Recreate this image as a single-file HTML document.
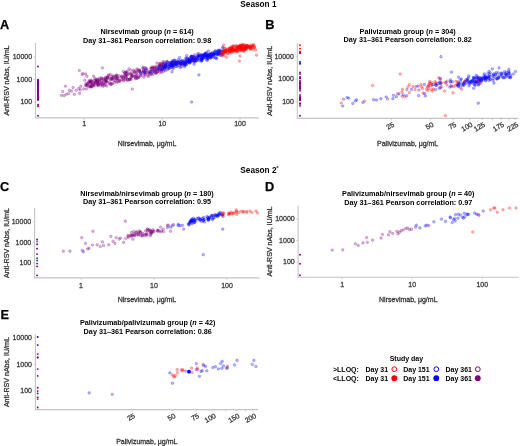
<!DOCTYPE html>
<html><head><meta charset="utf-8"><style>
html,body{margin:0;padding:0;background:#fff;width:520px;height:446px;overflow:hidden}
svg{display:block;font-family:"Liberation Sans",sans-serif;will-change:transform}
.r{fill:#f00;stroke:#f00}.b{fill:#00f;stroke:#00f}.p{fill:#800080;stroke:#800080}
.r,.b,.p{fill-opacity:.3;stroke-opacity:.34;stroke-width:.6}
</style></head><body><svg width="520" height="446" viewBox="0 0 520 446" font-family="Liberation Sans, sans-serif"><circle class="p" cx="61.4" cy="95.3" r="1.35"/><circle class="p" cx="62.7" cy="91.6" r="1.35"/><circle class="p" cx="64.1" cy="95.7" r="1.35"/><circle class="p" cx="65.4" cy="86.2" r="1.35"/><circle class="p" cx="66.3" cy="94.3" r="1.35"/><circle class="p" cx="68.5" cy="93.6" r="1.35"/><circle class="p" cx="69.4" cy="90.3" r="1.35"/><circle class="p" cx="71.5" cy="91.2" r="1.35"/><circle class="p" cx="73.1" cy="87.6" r="1.35"/><circle class="p" cx="74.4" cy="94.3" r="1.35"/><circle class="p" cx="76.2" cy="90.3" r="1.35"/><circle class="p" cx="78.9" cy="88.3" r="1.35"/><circle class="p" cx="79.5" cy="93.4" r="1.35"/><circle class="p" cx="79.3" cy="70.5" r="1.35"/><circle class="p" cx="80.9" cy="86.2" r="1.35"/><circle class="p" cx="80.2" cy="89.9" r="1.35"/><circle class="p" cx="82.2" cy="74.5" r="1.35"/><circle class="p" cx="82.9" cy="73.5" r="1.35"/><circle class="p" cx="83.6" cy="88.9" r="1.35"/><circle class="p" cx="84.9" cy="80.2" r="1.35"/><circle class="p" cx="85.6" cy="73.9" r="1.35"/><circle class="p" cx="86.9" cy="76.4" r="1.35"/><circle class="p" cx="85.6" cy="85.6" r="1.35"/><circle class="p" cx="102.4" cy="67.8" r="1.35"/><circle class="p" cx="93.7" cy="76.2" r="1.35"/><circle class="p" cx="108.5" cy="75.5" r="1.35"/><circle class="p" cx="123.3" cy="71.4" r="1.35"/><circle class="p" cx="132.3" cy="89.0" r="1.35"/><circle class="p" cx="111.6" cy="76.5" r="1.35"/><circle class="p" cx="128.3" cy="74.3" r="1.35"/><circle class="p" cx="90.6" cy="85.6" r="1.35"/><circle class="p" cx="91.5" cy="81.1" r="1.35"/><circle class="p" cx="119.5" cy="81.1" r="1.35"/><circle class="p" cx="135.6" cy="78.4" r="1.35"/><circle class="p" cx="131.6" cy="74.5" r="1.35"/><circle class="p" cx="153.8" cy="67.8" r="1.35"/><circle class="p" cx="97.4" cy="79.0" r="1.35"/><circle class="p" cx="100.3" cy="84.6" r="1.35"/><circle class="p" cx="136.5" cy="72.5" r="1.35"/><circle class="p" cx="90.7" cy="81.9" r="1.35"/><circle class="p" cx="139.8" cy="72.0" r="1.35"/><circle class="p" cx="121.8" cy="76.8" r="1.35"/><circle class="p" cx="148.8" cy="72.8" r="1.35"/><circle class="p" cx="127.5" cy="80.4" r="1.35"/><circle class="p" cx="143.6" cy="71.0" r="1.35"/><circle class="p" cx="119.0" cy="80.0" r="1.35"/><circle class="p" cx="98.0" cy="84.1" r="1.35"/><circle class="p" cx="146.4" cy="72.6" r="1.35"/><circle class="p" cx="155.2" cy="67.1" r="1.35"/><circle class="p" cx="131.8" cy="73.4" r="1.35"/><circle class="p" cx="152.4" cy="72.3" r="1.35"/><circle class="p" cx="90.8" cy="86.3" r="1.35"/><circle class="p" cx="137.1" cy="78.3" r="1.35"/><circle class="p" cx="116.5" cy="79.2" r="1.35"/><circle class="p" cx="87.8" cy="85.5" r="1.35"/><circle class="p" cx="90.7" cy="87.1" r="1.35"/><circle class="p" cx="96.2" cy="79.5" r="1.35"/><circle class="p" cx="92.4" cy="84.9" r="1.35"/><circle class="p" cx="129.4" cy="79.6" r="1.35"/><circle class="p" cx="108.0" cy="77.9" r="1.35"/><circle class="p" cx="114.3" cy="82.8" r="1.35"/><circle class="p" cx="99.9" cy="79.9" r="1.35"/><circle class="p" cx="104.4" cy="80.5" r="1.35"/><circle class="p" cx="86.3" cy="85.1" r="1.35"/><circle class="p" cx="115.2" cy="80.8" r="1.35"/><circle class="p" cx="126.7" cy="76.7" r="1.35"/><circle class="p" cx="139.4" cy="70.9" r="1.35"/><circle class="p" cx="155.1" cy="70.6" r="1.35"/><circle class="p" cx="117.0" cy="78.7" r="1.35"/><circle class="p" cx="90.9" cy="81.6" r="1.35"/><circle class="p" cx="102.5" cy="78.7" r="1.35"/><circle class="p" cx="86.0" cy="83.7" r="1.35"/><circle class="p" cx="94.0" cy="84.5" r="1.35"/><circle class="p" cx="134.5" cy="71.7" r="1.35"/><circle class="p" cx="105.9" cy="79.3" r="1.35"/><circle class="p" cx="153.1" cy="74.3" r="1.35"/><circle class="p" cx="122.8" cy="77.3" r="1.35"/><circle class="p" cx="113.1" cy="77.6" r="1.35"/><circle class="p" cx="151.5" cy="69.9" r="1.35"/><circle class="p" cx="127.7" cy="73.3" r="1.35"/><circle class="p" cx="128.9" cy="68.9" r="1.35"/><circle class="p" cx="154.2" cy="70.6" r="1.35"/><circle class="p" cx="106.6" cy="80.5" r="1.35"/><circle class="p" cx="128.1" cy="79.7" r="1.35"/><circle class="p" cx="112.0" cy="78.3" r="1.35"/><circle class="p" cx="153.4" cy="69.6" r="1.35"/><circle class="p" cx="150.6" cy="72.8" r="1.35"/><circle class="p" cx="114.1" cy="76.3" r="1.35"/><circle class="p" cx="88.2" cy="83.4" r="1.35"/><circle class="p" cx="161.6" cy="68.3" r="1.35"/><circle class="p" cx="160.0" cy="72.6" r="1.35"/><circle class="p" cx="103.4" cy="79.0" r="1.35"/><circle class="p" cx="101.5" cy="77.9" r="1.35"/><circle class="p" cx="152.4" cy="68.4" r="1.35"/><circle class="p" cx="137.6" cy="77.4" r="1.35"/><circle class="p" cx="157.9" cy="71.4" r="1.35"/><circle class="p" cx="145.3" cy="72.5" r="1.35"/><circle class="p" cx="112.3" cy="83.6" r="1.35"/><circle class="p" cx="162.8" cy="64.1" r="1.35"/><circle class="p" cx="143.3" cy="71.0" r="1.35"/><circle class="p" cx="96.0" cy="81.8" r="1.35"/><circle class="p" cx="97.5" cy="84.6" r="1.35"/><circle class="p" cx="163.4" cy="67.4" r="1.35"/><circle class="p" cx="96.3" cy="80.1" r="1.35"/><circle class="p" cx="162.7" cy="65.9" r="1.35"/><circle class="p" cx="120.3" cy="80.4" r="1.35"/><circle class="p" cx="151.3" cy="68.0" r="1.35"/><circle class="p" cx="105.0" cy="82.7" r="1.35"/><circle class="p" cx="106.5" cy="81.6" r="1.35"/><circle class="p" cx="113.9" cy="80.4" r="1.35"/><circle class="p" cx="132.1" cy="76.4" r="1.35"/><circle class="p" cx="125.6" cy="77.7" r="1.35"/><circle class="p" cx="127.4" cy="71.4" r="1.35"/><circle class="p" cx="86.3" cy="89.0" r="1.35"/><circle class="p" cx="99.6" cy="82.0" r="1.35"/><circle class="p" cx="111.8" cy="78.5" r="1.35"/><circle class="p" cx="129.9" cy="78.8" r="1.35"/><circle class="p" cx="105.6" cy="79.9" r="1.35"/><circle class="p" cx="147.0" cy="70.0" r="1.35"/><circle class="p" cx="158.1" cy="67.1" r="1.35"/><circle class="p" cx="134.4" cy="72.9" r="1.35"/><circle class="p" cx="121.7" cy="77.5" r="1.35"/><circle class="p" cx="123.8" cy="79.9" r="1.35"/><circle class="p" cx="160.4" cy="63.5" r="1.35"/><circle class="p" cx="130.2" cy="79.4" r="1.35"/><circle class="p" cx="95.6" cy="82.4" r="1.35"/><circle class="p" cx="91.7" cy="83.4" r="1.35"/><circle class="p" cx="147.9" cy="75.3" r="1.35"/><circle class="p" cx="98.2" cy="84.2" r="1.35"/><circle class="p" cx="155.7" cy="72.4" r="1.35"/><circle class="p" cx="103.3" cy="84.4" r="1.35"/><circle class="p" cx="164.2" cy="70.1" r="1.35"/><circle class="p" cx="98.8" cy="81.1" r="1.35"/><circle class="p" cx="101.5" cy="80.3" r="1.35"/><circle class="p" cx="143.0" cy="67.3" r="1.35"/><circle class="p" cx="87.4" cy="84.0" r="1.35"/><circle class="p" cx="135.3" cy="77.0" r="1.35"/><circle class="p" cx="148.3" cy="76.3" r="1.35"/><circle class="p" cx="94.3" cy="83.3" r="1.35"/><circle class="p" cx="107.4" cy="77.9" r="1.35"/><circle class="p" cx="119.4" cy="81.6" r="1.35"/><circle class="p" cx="97.8" cy="85.6" r="1.35"/><circle class="p" cx="131.1" cy="77.1" r="1.35"/><circle class="p" cx="140.4" cy="72.6" r="1.35"/><circle class="p" cx="91.7" cy="86.7" r="1.35"/><circle class="p" cx="92.6" cy="85.6" r="1.35"/><circle class="p" cx="91.3" cy="86.5" r="1.35"/><circle class="p" cx="129.7" cy="79.3" r="1.35"/><circle class="p" cx="107.2" cy="76.8" r="1.35"/><circle class="p" cx="94.6" cy="80.6" r="1.35"/><circle class="p" cx="90.0" cy="81.8" r="1.35"/><circle class="p" cx="146.0" cy="70.7" r="1.35"/><circle class="p" cx="125.5" cy="73.6" r="1.35"/><circle class="p" cx="105.8" cy="77.1" r="1.35"/><circle class="p" cx="143.9" cy="73.1" r="1.35"/><circle class="p" cx="159.8" cy="65.4" r="1.35"/><circle class="p" cx="150.7" cy="68.1" r="1.35"/><circle class="p" cx="117.1" cy="78.5" r="1.35"/><circle class="p" cx="140.3" cy="76.0" r="1.35"/><circle class="p" cx="141.8" cy="75.4" r="1.35"/><circle class="p" cx="118.0" cy="77.4" r="1.35"/><circle class="p" cx="91.6" cy="86.4" r="1.35"/><circle class="p" cx="106.2" cy="79.7" r="1.35"/><circle class="p" cx="154.8" cy="71.7" r="1.35"/><circle class="p" cx="108.3" cy="77.9" r="1.35"/><circle class="p" cx="98.4" cy="83.3" r="1.35"/><circle class="p" cx="106.8" cy="85.9" r="1.35"/><circle class="p" cx="105.3" cy="84.8" r="1.35"/><circle class="p" cx="110.5" cy="79.7" r="1.35"/><circle class="p" cx="123.5" cy="76.9" r="1.35"/><circle class="p" cx="101.9" cy="82.7" r="1.35"/><circle class="p" cx="93.1" cy="83.1" r="1.35"/><circle class="p" cx="89.3" cy="80.7" r="1.35"/><circle class="p" cx="132.3" cy="75.8" r="1.35"/><circle class="p" cx="145.3" cy="72.8" r="1.35"/><circle class="p" cx="116.8" cy="75.0" r="1.35"/><circle class="p" cx="163.8" cy="63.5" r="1.35"/><circle class="p" cx="89.5" cy="86.2" r="1.35"/><circle class="p" cx="156.5" cy="69.6" r="1.35"/><circle class="p" cx="97.0" cy="81.4" r="1.35"/><circle class="p" cx="125.8" cy="79.8" r="1.35"/><circle class="p" cx="132.1" cy="76.4" r="1.35"/><circle class="p" cx="139.9" cy="74.8" r="1.35"/><circle class="p" cx="96.5" cy="82.2" r="1.35"/><circle class="p" cx="94.3" cy="85.1" r="1.35"/><circle class="p" cx="135.5" cy="75.2" r="1.35"/><circle class="p" cx="124.7" cy="72.9" r="1.35"/><circle class="p" cx="125.7" cy="75.1" r="1.35"/><circle class="p" cx="138.1" cy="69.8" r="1.35"/><circle class="p" cx="91.9" cy="81.4" r="1.35"/><circle class="p" cx="143.6" cy="69.6" r="1.35"/><circle class="p" cx="125.0" cy="72.8" r="1.35"/><circle class="p" cx="123.8" cy="78.5" r="1.35"/><circle class="p" cx="136.8" cy="68.9" r="1.35"/><circle class="p" cx="97.6" cy="80.7" r="1.35"/><circle class="p" cx="130.9" cy="70.3" r="1.35"/><circle class="p" cx="90.8" cy="81.8" r="1.35"/><circle class="p" cx="139.4" cy="70.1" r="1.35"/><circle class="p" cx="126.8" cy="75.3" r="1.35"/><circle class="p" cx="156.6" cy="66.3" r="1.35"/><circle class="p" cx="163.3" cy="71.6" r="1.35"/><circle class="p" cx="150.8" cy="74.6" r="1.35"/><circle class="p" cx="121.5" cy="76.0" r="1.35"/><circle class="p" cx="102.6" cy="84.7" r="1.35"/><circle class="p" cx="97.2" cy="83.7" r="1.35"/><circle class="p" cx="150.8" cy="70.5" r="1.35"/><circle class="p" cx="156.1" cy="70.8" r="1.35"/><circle class="p" cx="124.4" cy="74.8" r="1.35"/><circle class="p" cx="86.3" cy="85.4" r="1.35"/><circle class="p" cx="97.1" cy="81.9" r="1.35"/><circle class="p" cx="111.0" cy="84.3" r="1.35"/><circle class="p" cx="152.3" cy="66.9" r="1.35"/><circle class="p" cx="159.2" cy="70.3" r="1.35"/><circle class="p" cx="115.4" cy="77.4" r="1.35"/><circle class="p" cx="164.9" cy="66.5" r="1.35"/><circle class="p" cx="107.7" cy="77.5" r="1.35"/><circle class="p" cx="94.0" cy="86.0" r="1.35"/><circle class="p" cx="105.7" cy="81.3" r="1.35"/><circle class="p" cx="126.4" cy="71.9" r="1.35"/><circle class="p" cx="155.9" cy="73.3" r="1.35"/><circle class="p" cx="135.8" cy="78.7" r="1.35"/><circle class="p" cx="142.8" cy="68.2" r="1.35"/><circle class="p" cx="143.9" cy="71.8" r="1.35"/><circle class="p" cx="108.6" cy="75.1" r="1.35"/><circle class="p" cx="159.2" cy="63.8" r="1.35"/><circle class="p" cx="109.5" cy="82.3" r="1.35"/><circle class="p" cx="163.1" cy="64.4" r="1.35"/><circle class="p" cx="130.0" cy="73.8" r="1.35"/><circle class="p" cx="99.2" cy="80.2" r="1.35"/><circle class="p" cx="125.3" cy="76.2" r="1.35"/><circle class="p" cx="157.6" cy="72.0" r="1.35"/><circle class="p" cx="101.2" cy="78.8" r="1.35"/><circle class="p" cx="113.0" cy="75.9" r="1.35"/><circle class="p" cx="131.0" cy="79.2" r="1.35"/><circle class="p" cx="145.2" cy="70.1" r="1.35"/><circle class="p" cx="115.8" cy="77.9" r="1.35"/><circle class="p" cx="90.9" cy="83.0" r="1.35"/><circle class="p" cx="125.8" cy="77.4" r="1.35"/><circle class="p" cx="154.2" cy="67.0" r="1.35"/><circle class="p" cx="117.6" cy="78.6" r="1.35"/><circle class="p" cx="161.4" cy="70.3" r="1.35"/><circle class="p" cx="88.5" cy="86.8" r="1.35"/><circle class="p" cx="156.8" cy="68.4" r="1.35"/><circle class="p" cx="116.9" cy="82.0" r="1.35"/><circle class="p" cx="151.2" cy="74.1" r="1.35"/><circle class="p" cx="94.6" cy="80.5" r="1.35"/><circle class="p" cx="127.3" cy="79.1" r="1.35"/><circle class="p" cx="137.1" cy="75.4" r="1.35"/><circle class="p" cx="122.1" cy="79.3" r="1.35"/><circle class="p" cx="104.4" cy="85.3" r="1.35"/><circle class="p" cx="137.0" cy="72.7" r="1.35"/><circle class="p" cx="136.3" cy="76.2" r="1.35"/><circle class="p" cx="94.9" cy="78.6" r="1.35"/><circle class="p" cx="116.7" cy="75.9" r="1.35"/><circle class="p" cx="133.5" cy="70.1" r="1.35"/><circle class="p" cx="161.8" cy="69.4" r="1.35"/><circle class="p" cx="155.8" cy="68.8" r="1.35"/><circle class="p" cx="161.9" cy="69.6" r="1.35"/><circle class="p" cx="110.3" cy="74.4" r="1.35"/><circle class="p" cx="119.2" cy="75.9" r="1.35"/><circle class="p" cx="138.7" cy="77.0" r="1.35"/><circle class="p" cx="112.7" cy="79.0" r="1.35"/><circle class="p" cx="139.9" cy="71.1" r="1.35"/><circle class="p" cx="125.9" cy="72.3" r="1.35"/><circle class="p" cx="162.6" cy="65.7" r="1.35"/><circle class="p" cx="103.5" cy="83.0" r="1.35"/><circle class="p" cx="109.3" cy="83.3" r="1.35"/><circle class="p" cx="103.6" cy="80.8" r="1.35"/><circle class="p" cx="138.6" cy="77.8" r="1.35"/><circle class="p" cx="102.8" cy="86.4" r="1.35"/><circle class="p" cx="97.2" cy="80.1" r="1.35"/><circle class="p" cx="157.0" cy="72.2" r="1.35"/><circle class="p" cx="143.9" cy="77.2" r="1.35"/><circle class="p" cx="100.7" cy="85.4" r="1.35"/><circle class="p" cx="145.0" cy="67.5" r="1.35"/><circle class="p" cx="115.5" cy="76.5" r="1.35"/><circle class="p" cx="99.4" cy="78.1" r="1.35"/><circle class="p" cx="161.5" cy="65.0" r="1.35"/><circle class="p" cx="162.2" cy="63.5" r="1.35"/><circle class="p" cx="150.9" cy="71.4" r="1.35"/><circle class="p" cx="89.9" cy="82.9" r="1.35"/><circle class="p" cx="101.2" cy="82.5" r="1.35"/><circle class="p" cx="156.9" cy="63.1" r="1.35"/><circle class="p" cx="146.6" cy="68.7" r="1.35"/><circle class="p" cx="88.8" cy="82.1" r="1.35"/><circle class="p" cx="145.0" cy="74.9" r="1.35"/><circle class="p" cx="112.8" cy="78.8" r="1.35"/><circle class="p" cx="106.7" cy="82.2" r="1.35"/><circle class="p" cx="111.0" cy="79.6" r="1.35"/><circle class="p" cx="158.4" cy="69.3" r="1.35"/><circle class="p" cx="160.5" cy="63.6" r="1.35"/><circle class="p" cx="161.6" cy="72.2" r="1.35"/><circle class="p" cx="116.5" cy="75.4" r="1.35"/><circle class="p" cx="159.3" cy="65.7" r="1.35"/><circle class="p" cx="149.4" cy="73.7" r="1.35"/><circle class="p" cx="134.0" cy="71.5" r="1.35"/><circle class="p" cx="111.2" cy="78.6" r="1.35"/><circle class="p" cx="101.6" cy="83.7" r="1.35"/><circle class="p" cx="105.5" cy="78.6" r="1.35"/><circle class="p" cx="111.7" cy="83.9" r="1.35"/><circle class="p" cx="155.8" cy="73.0" r="1.35"/><circle class="p" cx="93.6" cy="84.2" r="1.35"/><circle class="p" cx="142.1" cy="72.3" r="1.35"/><circle class="p" cx="135.0" cy="76.7" r="1.35"/><circle class="p" cx="145.1" cy="74.6" r="1.35"/><circle class="p" cx="152.4" cy="67.9" r="1.35"/><circle class="p" cx="130.8" cy="74.1" r="1.35"/><circle class="p" cx="105.5" cy="78.2" r="1.35"/><circle class="p" cx="98.1" cy="85.2" r="1.35"/><circle class="p" cx="117.3" cy="82.0" r="1.35"/><circle class="p" cx="126.1" cy="74.6" r="1.35"/><circle class="p" cx="164.3" cy="61.9" r="1.35"/><circle class="p" cx="123.5" cy="80.8" r="1.35"/><circle class="p" cx="89.2" cy="81.4" r="1.35"/><circle class="p" cx="95.4" cy="82.1" r="1.35"/><circle class="p" cx="159.5" cy="66.5" r="1.35"/><circle class="p" cx="154.4" cy="68.8" r="1.35"/><circle class="p" cx="160.7" cy="65.8" r="1.35"/><circle class="p" cx="133.1" cy="75.9" r="1.35"/><circle class="p" cx="97.2" cy="81.4" r="1.35"/><circle class="p" cx="106.1" cy="81.3" r="1.35"/><circle class="p" cx="86.9" cy="84.0" r="1.35"/><circle class="p" cx="139.6" cy="70.3" r="1.35"/><circle class="p" cx="148.8" cy="72.1" r="1.35"/><circle class="p" cx="91.0" cy="80.0" r="1.35"/><circle class="p" cx="136.5" cy="71.2" r="1.35"/><circle class="p" cx="98.9" cy="83.5" r="1.35"/><circle class="p" cx="110.3" cy="84.2" r="1.35"/><circle class="p" cx="164.7" cy="66.3" r="1.35"/><circle class="p" cx="173.0" cy="68.8" r="1.35"/><circle class="p" cx="165.5" cy="64.1" r="1.35"/><circle class="p" cx="160.1" cy="69.7" r="1.35"/><circle class="p" cx="166.4" cy="66.6" r="1.35"/><circle class="p" cx="166.9" cy="64.7" r="1.35"/><circle class="p" cx="160.2" cy="66.5" r="1.35"/><circle class="p" cx="161.3" cy="66.4" r="1.35"/><circle class="p" cx="165.6" cy="66.8" r="1.35"/><circle class="p" cx="167.8" cy="69.4" r="1.35"/><circle class="p" cx="161.6" cy="68.0" r="1.35"/><circle class="p" cx="163.0" cy="61.8" r="1.35"/><circle class="p" cx="174.1" cy="67.2" r="1.35"/><circle class="p" cx="173.9" cy="63.5" r="1.35"/><circle class="p" cx="173.6" cy="65.5" r="1.35"/><circle class="b" cx="159.6" cy="66.7" r="1.35"/><circle class="b" cx="145.6" cy="68.8" r="1.35"/><circle class="b" cx="160.7" cy="69.5" r="1.35"/><circle class="b" cx="144.6" cy="72.4" r="1.35"/><circle class="b" cx="152.9" cy="71.7" r="1.35"/><circle class="b" cx="149.6" cy="71.9" r="1.35"/><circle class="b" cx="158.1" cy="69.2" r="1.35"/><circle class="b" cx="162.4" cy="69.4" r="1.35"/><circle class="b" cx="158.9" cy="68.6" r="1.35"/><circle class="b" cx="141.0" cy="73.4" r="1.35"/><circle class="b" cx="199.6" cy="57.1" r="1.35"/><circle class="b" cx="196.6" cy="57.4" r="1.35"/><circle class="b" cx="188.6" cy="59.3" r="1.35"/><circle class="b" cx="198.5" cy="55.5" r="1.35"/><circle class="b" cx="190.3" cy="61.5" r="1.35"/><circle class="b" cx="189.7" cy="63.0" r="1.35"/><circle class="b" cx="192.9" cy="59.9" r="1.35"/><circle class="b" cx="177.4" cy="63.7" r="1.35"/><circle class="b" cx="191.0" cy="56.5" r="1.35"/><circle class="b" cx="174.0" cy="63.3" r="1.35"/><circle class="b" cx="170.8" cy="65.2" r="1.35"/><circle class="b" cx="189.3" cy="62.2" r="1.35"/><circle class="b" cx="194.1" cy="60.4" r="1.35"/><circle class="b" cx="165.5" cy="65.7" r="1.35"/><circle class="b" cx="207.7" cy="55.4" r="1.35"/><circle class="b" cx="210.4" cy="54.7" r="1.35"/><circle class="b" cx="193.7" cy="59.3" r="1.35"/><circle class="b" cx="186.0" cy="62.3" r="1.35"/><circle class="b" cx="215.3" cy="53.7" r="1.35"/><circle class="b" cx="223.8" cy="51.4" r="1.35"/><circle class="b" cx="174.8" cy="60.4" r="1.35"/><circle class="b" cx="222.9" cy="47.0" r="1.35"/><circle class="b" cx="218.9" cy="53.4" r="1.35"/><circle class="b" cx="173.1" cy="65.6" r="1.35"/><circle class="b" cx="167.0" cy="61.4" r="1.35"/><circle class="b" cx="184.4" cy="61.7" r="1.35"/><circle class="b" cx="217.7" cy="52.2" r="1.35"/><circle class="b" cx="179.8" cy="63.3" r="1.35"/><circle class="b" cx="193.6" cy="58.3" r="1.35"/><circle class="b" cx="219.1" cy="53.4" r="1.35"/><circle class="b" cx="193.9" cy="60.8" r="1.35"/><circle class="b" cx="182.5" cy="63.4" r="1.35"/><circle class="b" cx="172.8" cy="64.8" r="1.35"/><circle class="b" cx="220.1" cy="51.0" r="1.35"/><circle class="b" cx="173.3" cy="60.6" r="1.35"/><circle class="b" cx="210.9" cy="57.1" r="1.35"/><circle class="b" cx="201.8" cy="59.0" r="1.35"/><circle class="b" cx="184.9" cy="63.3" r="1.35"/><circle class="b" cx="198.4" cy="56.4" r="1.35"/><circle class="b" cx="216.8" cy="58.6" r="1.35"/><circle class="b" cx="201.4" cy="61.3" r="1.35"/><circle class="b" cx="187.0" cy="61.4" r="1.35"/><circle class="b" cx="223.4" cy="50.4" r="1.35"/><circle class="b" cx="198.2" cy="56.1" r="1.35"/><circle class="b" cx="190.0" cy="62.8" r="1.35"/><circle class="b" cx="173.8" cy="64.3" r="1.35"/><circle class="b" cx="213.0" cy="54.1" r="1.35"/><circle class="b" cx="178.5" cy="59.5" r="1.35"/><circle class="b" cx="198.7" cy="53.7" r="1.35"/><circle class="b" cx="203.5" cy="57.0" r="1.35"/><circle class="b" cx="165.1" cy="66.5" r="1.35"/><circle class="b" cx="172.1" cy="63.1" r="1.35"/><circle class="b" cx="194.3" cy="57.8" r="1.35"/><circle class="b" cx="217.6" cy="54.4" r="1.35"/><circle class="b" cx="202.8" cy="58.2" r="1.35"/><circle class="b" cx="164.4" cy="68.4" r="1.35"/><circle class="b" cx="169.5" cy="65.4" r="1.35"/><circle class="b" cx="184.8" cy="62.0" r="1.35"/><circle class="b" cx="198.9" cy="60.7" r="1.35"/><circle class="b" cx="175.5" cy="62.3" r="1.35"/><circle class="b" cx="171.2" cy="63.3" r="1.35"/><circle class="b" cx="220.1" cy="52.8" r="1.35"/><circle class="b" cx="168.8" cy="66.6" r="1.35"/><circle class="b" cx="201.9" cy="59.8" r="1.35"/><circle class="b" cx="187.5" cy="58.3" r="1.35"/><circle class="b" cx="179.1" cy="65.9" r="1.35"/><circle class="b" cx="197.3" cy="58.7" r="1.35"/><circle class="b" cx="184.4" cy="60.3" r="1.35"/><circle class="b" cx="220.2" cy="51.0" r="1.35"/><circle class="b" cx="207.7" cy="56.1" r="1.35"/><circle class="b" cx="165.7" cy="70.6" r="1.35"/><circle class="b" cx="195.4" cy="57.7" r="1.35"/><circle class="b" cx="166.6" cy="66.8" r="1.35"/><circle class="b" cx="210.5" cy="57.9" r="1.35"/><circle class="b" cx="220.4" cy="52.9" r="1.35"/><circle class="b" cx="171.7" cy="65.7" r="1.35"/><circle class="b" cx="193.9" cy="61.9" r="1.35"/><circle class="b" cx="202.1" cy="57.8" r="1.35"/><circle class="b" cx="181.9" cy="61.2" r="1.35"/><circle class="b" cx="181.3" cy="66.5" r="1.35"/><circle class="b" cx="210.8" cy="56.6" r="1.35"/><circle class="b" cx="206.6" cy="60.1" r="1.35"/><circle class="b" cx="208.5" cy="56.0" r="1.35"/><circle class="b" cx="191.4" cy="59.8" r="1.35"/><circle class="b" cx="176.8" cy="61.4" r="1.35"/><circle class="b" cx="169.4" cy="65.4" r="1.35"/><circle class="b" cx="183.5" cy="62.5" r="1.35"/><circle class="b" cx="208.7" cy="54.5" r="1.35"/><circle class="b" cx="206.4" cy="52.7" r="1.35"/><circle class="b" cx="179.2" cy="61.0" r="1.35"/><circle class="b" cx="211.1" cy="54.5" r="1.35"/><circle class="b" cx="194.9" cy="58.7" r="1.35"/><circle class="b" cx="221.9" cy="55.2" r="1.35"/><circle class="b" cx="176.2" cy="64.0" r="1.35"/><circle class="b" cx="178.9" cy="62.8" r="1.35"/><circle class="b" cx="177.4" cy="63.2" r="1.35"/><circle class="b" cx="208.5" cy="51.0" r="1.35"/><circle class="b" cx="182.9" cy="63.3" r="1.35"/><circle class="b" cx="177.6" cy="62.2" r="1.35"/><circle class="b" cx="218.4" cy="51.1" r="1.35"/><circle class="b" cx="203.6" cy="54.7" r="1.35"/><circle class="b" cx="222.7" cy="48.3" r="1.35"/><circle class="b" cx="205.6" cy="57.3" r="1.35"/><circle class="b" cx="215.3" cy="51.1" r="1.35"/><circle class="b" cx="197.8" cy="59.6" r="1.35"/><circle class="b" cx="181.8" cy="63.0" r="1.35"/><circle class="b" cx="167.7" cy="68.5" r="1.35"/><circle class="b" cx="218.6" cy="53.5" r="1.35"/><circle class="b" cx="169.5" cy="65.7" r="1.35"/><circle class="b" cx="219.7" cy="52.3" r="1.35"/><circle class="b" cx="164.8" cy="67.4" r="1.35"/><circle class="b" cx="165.5" cy="65.3" r="1.35"/><circle class="b" cx="205.5" cy="53.9" r="1.35"/><circle class="b" cx="207.9" cy="58.4" r="1.35"/><circle class="b" cx="185.2" cy="62.5" r="1.35"/><circle class="b" cx="212.9" cy="56.5" r="1.35"/><circle class="b" cx="167.0" cy="62.1" r="1.35"/><circle class="b" cx="215.9" cy="58.0" r="1.35"/><circle class="b" cx="169.5" cy="62.8" r="1.35"/><circle class="b" cx="175.5" cy="64.3" r="1.35"/><circle class="b" cx="214.7" cy="54.6" r="1.35"/><circle class="b" cx="212.5" cy="52.3" r="1.35"/><circle class="b" cx="201.5" cy="54.7" r="1.35"/><circle class="b" cx="180.5" cy="63.4" r="1.35"/><circle class="b" cx="209.2" cy="56.2" r="1.35"/><circle class="b" cx="175.5" cy="63.0" r="1.35"/><circle class="b" cx="164.3" cy="68.5" r="1.35"/><circle class="b" cx="178.7" cy="62.5" r="1.35"/><circle class="b" cx="185.4" cy="64.5" r="1.35"/><circle class="b" cx="182.6" cy="64.4" r="1.35"/><circle class="b" cx="214.9" cy="53.6" r="1.35"/><circle class="b" cx="200.7" cy="59.7" r="1.35"/><circle class="b" cx="189.6" cy="60.7" r="1.35"/><circle class="b" cx="210.2" cy="53.7" r="1.35"/><circle class="b" cx="195.8" cy="61.4" r="1.35"/><circle class="b" cx="176.2" cy="64.3" r="1.35"/><circle class="b" cx="213.0" cy="54.0" r="1.35"/><circle class="b" cx="173.4" cy="65.7" r="1.35"/><circle class="b" cx="209.5" cy="55.6" r="1.35"/><circle class="b" cx="222.6" cy="54.4" r="1.35"/><circle class="b" cx="193.0" cy="59.5" r="1.35"/><circle class="b" cx="211.6" cy="56.0" r="1.35"/><circle class="b" cx="184.2" cy="63.9" r="1.35"/><circle class="b" cx="213.7" cy="54.2" r="1.35"/><circle class="b" cx="180.3" cy="67.5" r="1.35"/><circle class="b" cx="176.1" cy="63.0" r="1.35"/><circle class="b" cx="169.7" cy="63.0" r="1.35"/><circle class="b" cx="201.8" cy="60.5" r="1.35"/><circle class="b" cx="205.5" cy="58.2" r="1.35"/><circle class="b" cx="211.0" cy="53.9" r="1.35"/><circle class="b" cx="187.5" cy="59.5" r="1.35"/><circle class="b" cx="187.1" cy="61.6" r="1.35"/><circle class="b" cx="217.2" cy="53.0" r="1.35"/><circle class="b" cx="164.5" cy="66.9" r="1.35"/><circle class="b" cx="218.0" cy="54.9" r="1.35"/><circle class="b" cx="193.6" cy="56.3" r="1.35"/><circle class="b" cx="177.2" cy="66.3" r="1.35"/><circle class="b" cx="191.1" cy="56.6" r="1.35"/><circle class="b" cx="208.9" cy="55.1" r="1.35"/><circle class="b" cx="202.4" cy="56.2" r="1.35"/><circle class="b" cx="172.5" cy="66.1" r="1.35"/><circle class="b" cx="214.4" cy="52.6" r="1.35"/><circle class="b" cx="173.3" cy="61.6" r="1.35"/><circle class="b" cx="189.8" cy="60.6" r="1.35"/><circle class="b" cx="170.7" cy="62.4" r="1.35"/><circle class="b" cx="191.2" cy="61.0" r="1.35"/><circle class="b" cx="174.7" cy="63.1" r="1.35"/><circle class="b" cx="181.4" cy="61.3" r="1.35"/><circle class="b" cx="172.4" cy="60.9" r="1.35"/><circle class="b" cx="172.5" cy="64.6" r="1.35"/><circle class="b" cx="194.9" cy="60.8" r="1.35"/><circle class="b" cx="172.8" cy="63.9" r="1.35"/><circle class="b" cx="222.5" cy="53.3" r="1.35"/><circle class="b" cx="207.5" cy="60.2" r="1.35"/><circle class="b" cx="169.2" cy="68.4" r="1.35"/><circle class="b" cx="186.4" cy="64.7" r="1.35"/><circle class="b" cx="207.7" cy="55.7" r="1.35"/><circle class="b" cx="189.5" cy="61.3" r="1.35"/><circle class="b" cx="169.5" cy="68.0" r="1.35"/><circle class="b" cx="175.6" cy="63.5" r="1.35"/><circle class="b" cx="187.3" cy="61.2" r="1.35"/><circle class="b" cx="211.3" cy="54.3" r="1.35"/><circle class="b" cx="201.6" cy="55.2" r="1.35"/><circle class="b" cx="191.3" cy="61.6" r="1.35"/><circle class="b" cx="187.7" cy="62.9" r="1.35"/><circle class="b" cx="208.2" cy="57.7" r="1.35"/><circle class="b" cx="198.0" cy="57.1" r="1.35"/><circle class="b" cx="208.7" cy="54.5" r="1.35"/><circle class="b" cx="207.1" cy="56.9" r="1.35"/><circle class="b" cx="216.7" cy="54.2" r="1.35"/><circle class="b" cx="215.0" cy="51.1" r="1.35"/><circle class="b" cx="204.5" cy="55.4" r="1.35"/><circle class="b" cx="182.1" cy="60.5" r="1.35"/><circle class="b" cx="201.3" cy="59.2" r="1.35"/><circle class="b" cx="210.7" cy="56.5" r="1.35"/><circle class="b" cx="206.5" cy="55.3" r="1.35"/><circle class="b" cx="188.8" cy="59.4" r="1.35"/><circle class="b" cx="190.8" cy="58.5" r="1.35"/><circle class="b" cx="204.2" cy="55.4" r="1.35"/><circle class="b" cx="219.7" cy="54.1" r="1.35"/><circle class="b" cx="210.5" cy="58.0" r="1.35"/><circle class="b" cx="186.7" cy="55.6" r="1.35"/><circle class="b" cx="165.3" cy="66.7" r="1.35"/><circle class="b" cx="196.1" cy="60.6" r="1.35"/><circle class="b" cx="220.4" cy="55.7" r="1.35"/><circle class="b" cx="194.7" cy="61.2" r="1.35"/><circle class="b" cx="196.0" cy="60.3" r="1.35"/><circle class="b" cx="206.8" cy="53.4" r="1.35"/><circle class="b" cx="213.6" cy="54.3" r="1.35"/><circle class="b" cx="194.8" cy="54.9" r="1.35"/><circle class="b" cx="175.8" cy="66.4" r="1.35"/><circle class="b" cx="204.7" cy="54.1" r="1.35"/><circle class="b" cx="170.5" cy="67.2" r="1.35"/><circle class="b" cx="223.1" cy="51.6" r="1.35"/><circle class="b" cx="179.7" cy="63.4" r="1.35"/><circle class="b" cx="187.4" cy="63.0" r="1.35"/><circle class="b" cx="188.7" cy="60.7" r="1.35"/><circle class="b" cx="205.6" cy="55.6" r="1.35"/><circle class="b" cx="176.7" cy="64.9" r="1.35"/><circle class="b" cx="208.2" cy="58.2" r="1.35"/><circle class="b" cx="176.4" cy="62.8" r="1.35"/><circle class="b" cx="211.9" cy="53.9" r="1.35"/><circle class="b" cx="170.9" cy="65.9" r="1.35"/><circle class="b" cx="210.4" cy="56.4" r="1.35"/><circle class="b" cx="191.6" cy="57.2" r="1.35"/><circle class="b" cx="197.3" cy="59.2" r="1.35"/><circle class="b" cx="184.5" cy="66.7" r="1.35"/><circle class="b" cx="202.0" cy="58.9" r="1.35"/><circle class="b" cx="191.6" cy="56.5" r="1.35"/><circle class="b" cx="181.0" cy="61.6" r="1.35"/><circle class="b" cx="213.9" cy="54.1" r="1.35"/><circle class="b" cx="184.6" cy="62.5" r="1.35"/><circle class="b" cx="185.9" cy="60.0" r="1.35"/><circle class="b" cx="178.5" cy="62.0" r="1.35"/><circle class="b" cx="163.2" cy="67.4" r="1.35"/><circle class="b" cx="207.0" cy="55.9" r="1.35"/><circle class="b" cx="181.4" cy="63.9" r="1.35"/><circle class="b" cx="192.3" cy="57.1" r="1.35"/><circle class="b" cx="203.2" cy="58.3" r="1.35"/><circle class="b" cx="185.1" cy="65.0" r="1.35"/><circle class="b" cx="166.5" cy="64.3" r="1.35"/><circle class="b" cx="213.5" cy="57.5" r="1.35"/><circle class="b" cx="171.6" cy="62.9" r="1.35"/><circle class="b" cx="213.7" cy="54.3" r="1.35"/><circle class="b" cx="163.7" cy="66.5" r="1.35"/><circle class="b" cx="221.1" cy="51.7" r="1.35"/><circle class="b" cx="169.2" cy="64.1" r="1.35"/><circle class="b" cx="171.7" cy="65.1" r="1.35"/><circle class="b" cx="184.1" cy="65.2" r="1.35"/><circle class="b" cx="172.3" cy="67.6" r="1.35"/><circle class="b" cx="173.2" cy="62.4" r="1.35"/><circle class="b" cx="217.4" cy="50.8" r="1.35"/><circle class="b" cx="203.8" cy="54.7" r="1.35"/><circle class="b" cx="217.5" cy="54.4" r="1.35"/><circle class="b" cx="175.0" cy="60.3" r="1.35"/><circle class="b" cx="205.3" cy="53.4" r="1.35"/><circle class="b" cx="189.8" cy="59.6" r="1.35"/><circle class="b" cx="216.8" cy="52.2" r="1.35"/><circle class="b" cx="177.3" cy="62.9" r="1.35"/><circle class="b" cx="171.5" cy="64.1" r="1.35"/><circle class="b" cx="191.5" cy="59.9" r="1.35"/><circle class="b" cx="171.8" cy="62.4" r="1.35"/><circle class="b" cx="195.9" cy="58.9" r="1.35"/><circle class="b" cx="215.6" cy="57.8" r="1.35"/><circle class="b" cx="191.5" cy="60.0" r="1.35"/><circle class="b" cx="197.3" cy="56.5" r="1.35"/><circle class="b" cx="185.9" cy="58.0" r="1.35"/><circle class="b" cx="188.5" cy="61.3" r="1.35"/><circle class="b" cx="201.9" cy="57.2" r="1.35"/><circle class="b" cx="201.8" cy="60.1" r="1.35"/><circle class="b" cx="204.6" cy="57.2" r="1.35"/><circle class="b" cx="219.8" cy="50.1" r="1.35"/><circle class="b" cx="194.1" cy="64.2" r="1.35"/><circle class="b" cx="192.6" cy="60.0" r="1.35"/><circle class="b" cx="206.8" cy="55.9" r="1.35"/><circle class="b" cx="201.1" cy="55.4" r="1.35"/><circle class="b" cx="185.3" cy="64.8" r="1.35"/><circle class="b" cx="191.9" cy="56.3" r="1.35"/><circle class="b" cx="175.9" cy="63.2" r="1.35"/><circle class="b" cx="189.5" cy="58.1" r="1.35"/><circle class="b" cx="213.4" cy="55.8" r="1.35"/><circle class="b" cx="180.9" cy="63.5" r="1.35"/><circle class="b" cx="193.7" cy="57.5" r="1.35"/><circle class="b" cx="179.6" cy="57.5" r="1.35"/><circle class="b" cx="202.9" cy="56.9" r="1.35"/><circle class="b" cx="211.3" cy="54.3" r="1.35"/><circle class="b" cx="181.3" cy="64.0" r="1.35"/><circle class="b" cx="198.8" cy="55.8" r="1.35"/><circle class="b" cx="165.4" cy="63.7" r="1.35"/><circle class="b" cx="207.1" cy="58.1" r="1.35"/><circle class="b" cx="166.0" cy="64.5" r="1.35"/><circle class="b" cx="181.3" cy="63.8" r="1.35"/><circle class="b" cx="219.2" cy="53.1" r="1.35"/><circle class="b" cx="200.1" cy="55.8" r="1.35"/><circle class="b" cx="218.5" cy="50.3" r="1.35"/><circle class="b" cx="200.3" cy="55.6" r="1.35"/><circle class="b" cx="205.5" cy="54.7" r="1.35"/><circle class="b" cx="199.4" cy="57.4" r="1.35"/><circle class="b" cx="203.7" cy="55.7" r="1.35"/><circle class="b" cx="190.9" cy="60.1" r="1.35"/><circle class="p" cx="174.1" cy="63.3" r="1.35"/><circle class="p" cx="166.8" cy="66.6" r="1.35"/><circle class="p" cx="197.8" cy="54.0" r="1.35"/><circle class="p" cx="183.4" cy="63.5" r="1.35"/><circle class="p" cx="193.1" cy="56.3" r="1.35"/><circle class="p" cx="177.9" cy="62.6" r="1.35"/><circle class="p" cx="180.9" cy="64.5" r="1.35"/><circle class="p" cx="186.5" cy="58.2" r="1.35"/><circle class="p" cx="167.7" cy="62.1" r="1.35"/><circle class="p" cx="193.4" cy="60.4" r="1.35"/><circle class="r" cx="245.9" cy="47.5" r="1.35"/><circle class="r" cx="240.4" cy="49.4" r="1.35"/><circle class="r" cx="222.4" cy="51.4" r="1.35"/><circle class="r" cx="236.6" cy="45.7" r="1.35"/><circle class="r" cx="253.5" cy="44.6" r="1.35"/><circle class="r" cx="238.5" cy="47.7" r="1.35"/><circle class="r" cx="241.8" cy="48.1" r="1.35"/><circle class="r" cx="232.0" cy="49.8" r="1.35"/><circle class="r" cx="221.0" cy="52.8" r="1.35"/><circle class="r" cx="242.7" cy="50.5" r="1.35"/><circle class="r" cx="227.4" cy="53.5" r="1.35"/><circle class="r" cx="247.8" cy="47.3" r="1.35"/><circle class="r" cx="243.5" cy="47.8" r="1.35"/><circle class="r" cx="232.9" cy="49.3" r="1.35"/><circle class="r" cx="225.3" cy="50.4" r="1.35"/><circle class="r" cx="244.9" cy="46.7" r="1.35"/><circle class="r" cx="243.8" cy="44.7" r="1.35"/><circle class="r" cx="227.2" cy="49.2" r="1.35"/><circle class="r" cx="238.2" cy="46.7" r="1.35"/><circle class="r" cx="250.4" cy="46.7" r="1.35"/><circle class="r" cx="243.5" cy="51.5" r="1.35"/><circle class="r" cx="222.0" cy="54.4" r="1.35"/><circle class="r" cx="246.1" cy="47.5" r="1.35"/><circle class="r" cx="227.0" cy="50.0" r="1.35"/><circle class="r" cx="230.5" cy="52.1" r="1.35"/><circle class="r" cx="247.5" cy="46.6" r="1.35"/><circle class="r" cx="236.1" cy="48.8" r="1.35"/><circle class="r" cx="240.4" cy="45.9" r="1.35"/><circle class="r" cx="229.8" cy="50.9" r="1.35"/><circle class="r" cx="245.6" cy="45.9" r="1.35"/><circle class="r" cx="241.5" cy="49.5" r="1.35"/><circle class="r" cx="237.3" cy="46.6" r="1.35"/><circle class="r" cx="251.0" cy="48.4" r="1.35"/><circle class="r" cx="245.2" cy="46.2" r="1.35"/><circle class="r" cx="226.0" cy="50.7" r="1.35"/><circle class="r" cx="252.9" cy="45.7" r="1.35"/><circle class="r" cx="235.3" cy="46.3" r="1.35"/><circle class="r" cx="241.0" cy="50.7" r="1.35"/><circle class="r" cx="240.9" cy="47.5" r="1.35"/><circle class="r" cx="234.7" cy="46.2" r="1.35"/><circle class="r" cx="236.3" cy="50.1" r="1.35"/><circle class="r" cx="242.7" cy="45.1" r="1.35"/><circle class="r" cx="245.8" cy="45.4" r="1.35"/><circle class="r" cx="234.0" cy="50.4" r="1.35"/><circle class="r" cx="237.4" cy="48.5" r="1.35"/><circle class="r" cx="240.7" cy="49.2" r="1.35"/><circle class="r" cx="224.8" cy="48.7" r="1.35"/><circle class="r" cx="246.6" cy="48.3" r="1.35"/><circle class="r" cx="240.4" cy="45.2" r="1.35"/><circle class="r" cx="233.8" cy="50.9" r="1.35"/><circle class="r" cx="242.7" cy="45.5" r="1.35"/><circle class="r" cx="249.5" cy="46.5" r="1.35"/><circle class="r" cx="240.0" cy="48.5" r="1.35"/><circle class="r" cx="245.6" cy="48.1" r="1.35"/><circle class="r" cx="250.4" cy="49.1" r="1.35"/><circle class="r" cx="232.7" cy="47.7" r="1.35"/><circle class="r" cx="238.3" cy="46.9" r="1.35"/><circle class="r" cx="231.8" cy="49.6" r="1.35"/><circle class="r" cx="245.4" cy="49.9" r="1.35"/><circle class="r" cx="238.2" cy="50.7" r="1.35"/><circle class="r" cx="244.9" cy="48.8" r="1.35"/><circle class="r" cx="232.6" cy="46.7" r="1.35"/><circle class="r" cx="248.4" cy="45.5" r="1.35"/><circle class="r" cx="239.4" cy="46.1" r="1.35"/><circle class="r" cx="231.3" cy="50.0" r="1.35"/><circle class="r" cx="231.4" cy="50.7" r="1.35"/><circle class="r" cx="236.0" cy="50.9" r="1.35"/><circle class="r" cx="240.2" cy="46.5" r="1.35"/><circle class="r" cx="229.9" cy="51.1" r="1.35"/><circle class="r" cx="225.0" cy="53.0" r="1.35"/><circle class="r" cx="228.2" cy="50.5" r="1.35"/><circle class="r" cx="241.6" cy="48.0" r="1.35"/><circle class="r" cx="240.9" cy="47.0" r="1.35"/><circle class="r" cx="235.6" cy="48.6" r="1.35"/><circle class="r" cx="224.2" cy="51.7" r="1.35"/><circle class="r" cx="254.5" cy="47.6" r="1.35"/><circle class="r" cx="240.3" cy="46.7" r="1.35"/><circle class="r" cx="233.4" cy="49.6" r="1.35"/><circle class="r" cx="251.1" cy="45.2" r="1.35"/><circle class="r" cx="244.7" cy="49.0" r="1.35"/><circle class="r" cx="233.2" cy="45.8" r="1.35"/><circle class="r" cx="224.5" cy="51.9" r="1.35"/><circle class="r" cx="227.2" cy="51.8" r="1.35"/><circle class="r" cx="225.4" cy="48.5" r="1.35"/><circle class="r" cx="238.1" cy="47.3" r="1.35"/><circle class="r" cx="251.2" cy="47.2" r="1.35"/><circle class="r" cx="240.9" cy="47.6" r="1.35"/><circle class="r" cx="236.8" cy="51.4" r="1.35"/><circle class="r" cx="233.3" cy="51.9" r="1.35"/><circle class="r" cx="240.2" cy="45.6" r="1.35"/><circle class="r" cx="242.4" cy="44.8" r="1.35"/><circle class="r" cx="236.7" cy="47.8" r="1.35"/><circle class="r" cx="252.3" cy="46.9" r="1.35"/><circle class="r" cx="254.7" cy="46.5" r="1.35"/><circle class="r" cx="233.3" cy="49.8" r="1.35"/><circle class="r" cx="235.8" cy="51.5" r="1.35"/><circle class="r" cx="246.7" cy="45.3" r="1.35"/><circle class="r" cx="225.1" cy="52.0" r="1.35"/><circle class="r" cx="241.9" cy="45.5" r="1.35"/><circle class="r" cx="253.9" cy="47.3" r="1.35"/><circle class="r" cx="244.4" cy="47.8" r="1.35"/><circle class="r" cx="250.7" cy="46.2" r="1.35"/><circle class="r" cx="240.8" cy="46.8" r="1.35"/><circle class="r" cx="244.5" cy="48.5" r="1.35"/><circle class="r" cx="233.3" cy="50.2" r="1.35"/><circle class="r" cx="229.0" cy="49.4" r="1.35"/><circle class="r" cx="232.8" cy="49.5" r="1.35"/><circle class="r" cx="229.7" cy="50.0" r="1.35"/><circle class="r" cx="243.5" cy="47.4" r="1.35"/><circle class="r" cx="231.5" cy="53.1" r="1.35"/><circle class="r" cx="232.3" cy="50.3" r="1.35"/><circle class="r" cx="250.5" cy="48.9" r="1.35"/><circle class="r" cx="229.6" cy="47.8" r="1.35"/><circle class="r" cx="237.9" cy="51.2" r="1.35"/><circle class="r" cx="246.9" cy="49.1" r="1.35"/><circle class="r" cx="241.5" cy="46.5" r="1.35"/><circle class="r" cx="246.3" cy="47.6" r="1.35"/><circle class="r" cx="238.5" cy="47.7" r="1.35"/><circle class="r" cx="232.3" cy="48.9" r="1.35"/><circle class="r" cx="225.7" cy="50.9" r="1.35"/><circle class="r" cx="229.7" cy="48.2" r="1.35"/><circle class="r" cx="247.9" cy="46.9" r="1.35"/><circle class="r" cx="230.1" cy="51.5" r="1.35"/><circle class="r" cx="233.7" cy="50.0" r="1.35"/><circle class="r" cx="230.6" cy="48.7" r="1.35"/><circle class="r" cx="238.8" cy="46.9" r="1.35"/><circle class="r" cx="228.5" cy="53.4" r="1.35"/><circle class="r" cx="253.3" cy="49.5" r="1.35"/><circle class="r" cx="242.4" cy="48.8" r="1.35"/><circle class="r" cx="232.0" cy="48.4" r="1.35"/><circle class="r" cx="233.3" cy="49.5" r="1.35"/><circle class="r" cx="231.7" cy="46.6" r="1.35"/><circle class="r" cx="255.9" cy="49.8" r="1.35"/><circle class="r" cx="250.0" cy="47.8" r="1.35"/><circle class="r" cx="248.8" cy="47.7" r="1.35"/><circle class="r" cx="225.8" cy="51.1" r="1.35"/><circle class="r" cx="253.3" cy="45.3" r="1.35"/><circle class="r" cx="222.6" cy="52.6" r="1.35"/><circle class="r" cx="229.6" cy="48.8" r="1.35"/><circle class="r" cx="220.2" cy="53.6" r="1.35"/><circle class="r" cx="231.2" cy="48.2" r="1.35"/><circle class="r" cx="237.6" cy="49.4" r="1.35"/><circle class="r" cx="240.4" cy="47.4" r="1.35"/><circle class="r" cx="229.5" cy="51.2" r="1.35"/><circle class="r" cx="243.4" cy="49.9" r="1.35"/><circle class="r" cx="231.5" cy="50.3" r="1.35"/><circle class="r" cx="241.1" cy="48.2" r="1.35"/><circle class="r" cx="238.9" cy="48.1" r="1.35"/><circle class="r" cx="241.2" cy="48.9" r="1.35"/><circle class="r" cx="243.3" cy="48.4" r="1.35"/><circle class="r" cx="231.7" cy="47.8" r="1.35"/><circle class="r" cx="226.2" cy="51.0" r="1.35"/><circle class="r" cx="243.6" cy="46.0" r="1.35"/><circle class="r" cx="225.6" cy="51.8" r="1.35"/><circle class="r" cx="246.9" cy="45.9" r="1.35"/><circle class="r" cx="247.6" cy="46.8" r="1.35"/><circle class="r" cx="249.4" cy="46.9" r="1.35"/><circle class="r" cx="238.5" cy="49.1" r="1.35"/><circle class="r" cx="231.2" cy="48.9" r="1.35"/><circle class="r" cx="246.6" cy="46.6" r="1.35"/><circle class="r" cx="236.2" cy="49.4" r="1.35"/><circle class="r" cx="240.8" cy="49.7" r="1.35"/><circle class="r" cx="237.9" cy="48.5" r="1.35"/><circle class="r" cx="239.3" cy="49.9" r="1.35"/><circle class="r" cx="246.1" cy="48.9" r="1.35"/><circle class="r" cx="247.7" cy="46.1" r="1.35"/><circle class="r" cx="236.4" cy="50.8" r="1.35"/><circle class="r" cx="244.3" cy="50.3" r="1.35"/><circle class="r" cx="251.6" cy="47.8" r="1.35"/><circle class="r" cx="238.9" cy="46.4" r="1.35"/><circle class="r" cx="239.7" cy="47.9" r="1.35"/><circle class="r" cx="223.1" cy="53.0" r="1.35"/><circle class="r" cx="231.1" cy="49.6" r="1.35"/><circle class="r" cx="228.1" cy="50.6" r="1.35"/><circle class="r" cx="223.9" cy="54.6" r="1.35"/><circle class="b" cx="191.6" cy="102.0" r="1.35"/><circle class="b" cx="198.9" cy="74.9" r="1.35"/><circle class="b" cx="172.0" cy="71.8" r="1.35"/><circle class="r" cx="223.7" cy="45.1" r="1.35"/><circle class="r" cx="223.2" cy="55.9" r="1.35"/><circle class="r" cx="226.2" cy="57.2" r="1.35"/><circle class="r" cx="240.1" cy="56.1" r="1.35"/><circle class="r" cx="239.4" cy="61.1" r="1.35"/><circle class="r" cx="256.5" cy="55.2" r="1.35"/><circle class="r" cx="341.3" cy="103.0" r="1.35"/><circle class="p" cx="343.4" cy="99.2" r="1.35"/><circle class="b" cx="342.7" cy="106.0" r="1.35"/><circle class="b" cx="347.0" cy="97.5" r="1.35"/><circle class="b" cx="348.7" cy="98.2" r="1.35"/><circle class="b" cx="352.9" cy="103.5" r="1.35"/><circle class="b" cx="355.4" cy="100.9" r="1.35"/><circle class="b" cx="356.7" cy="99.9" r="1.35"/><circle class="b" cx="363.0" cy="102.4" r="1.35"/><circle class="r" cx="364.5" cy="101.0" r="1.35"/><circle class="r" cx="372.6" cy="85.5" r="1.35"/><circle class="b" cx="373.6" cy="99.7" r="1.35"/><circle class="b" cx="376.6" cy="100.0" r="1.35"/><circle class="b" cx="380.9" cy="98.7" r="1.35"/><circle class="b" cx="386.2" cy="97.0" r="1.35"/><circle class="p" cx="387.6" cy="99.0" r="1.35"/><circle class="b" cx="392.9" cy="98.7" r="1.35"/><circle class="b" cx="393.5" cy="95.3" r="1.35"/><circle class="b" cx="396.3" cy="96.8" r="1.35"/><circle class="r" cx="397.4" cy="93.9" r="1.35"/><circle class="b" cx="399.0" cy="93.9" r="1.35"/><circle class="r" cx="400.2" cy="74.0" r="1.35"/><circle class="r" cx="401.9" cy="92.0" r="1.35"/><circle class="r" cx="402.4" cy="89.4" r="1.35"/><circle class="r" cx="402.2" cy="96.4" r="1.35"/><circle class="b" cx="403.3" cy="94.8" r="1.35"/><circle class="r" cx="404.9" cy="96.8" r="1.35"/><circle class="b" cx="406.7" cy="95.7" r="1.35"/><circle class="p" cx="406.9" cy="89.7" r="1.35"/><circle class="r" cx="407.8" cy="87.1" r="1.35"/><circle class="r" cx="409.4" cy="84.7" r="1.35"/><circle class="r" cx="409.4" cy="92.7" r="1.35"/><circle class="b" cx="411.4" cy="89.4" r="1.35"/><circle class="r" cx="413.1" cy="86.7" r="1.35"/><circle class="r" cx="415.0" cy="89.7" r="1.35"/><circle class="p" cx="416.1" cy="86.7" r="1.35"/><circle class="b" cx="418.1" cy="86.0" r="1.35"/><circle class="b" cx="418.7" cy="95.7" r="1.35"/><circle class="p" cx="419.0" cy="90.0" r="1.35"/><circle class="r" cx="420.9" cy="84.7" r="1.35"/><circle class="r" cx="421.7" cy="86.9" r="1.35"/><circle class="r" cx="422.6" cy="88.6" r="1.35"/><circle class="r" cx="423.2" cy="93.1" r="1.35"/><circle class="b" cx="424.3" cy="84.4" r="1.35"/><circle class="b" cx="424.6" cy="93.6" r="1.35"/><circle class="b" cx="425.4" cy="95.9" r="1.35"/><circle class="r" cx="426.5" cy="89.4" r="1.35"/><circle class="r" cx="427.1" cy="86.9" r="1.35"/><circle class="r" cx="428.0" cy="90.5" r="1.35"/><circle class="b" cx="428.8" cy="86.0" r="1.35"/><circle class="b" cx="441.0" cy="56.7" r="1.35"/><circle class="b" cx="451.5" cy="72.2" r="1.35"/><circle class="r" cx="435.0" cy="81.6" r="1.35"/><circle class="r" cx="453.0" cy="92.8" r="1.35"/><circle class="b" cx="478.3" cy="103.2" r="1.35"/><circle class="b" cx="513.3" cy="74.0" r="1.35"/><circle class="b" cx="515.5" cy="71.6" r="1.35"/><circle class="r" cx="431.1" cy="85.7" r="1.35"/><circle class="r" cx="428.6" cy="84.9" r="1.35"/><circle class="r" cx="447.2" cy="81.0" r="1.35"/><circle class="r" cx="450.5" cy="82.1" r="1.35"/><circle class="r" cx="431.3" cy="89.5" r="1.35"/><circle class="r" cx="429.4" cy="83.2" r="1.35"/><circle class="r" cx="431.9" cy="82.8" r="1.35"/><circle class="r" cx="436.9" cy="85.6" r="1.35"/><circle class="r" cx="431.9" cy="84.9" r="1.35"/><circle class="r" cx="446.9" cy="85.0" r="1.35"/><circle class="r" cx="455.6" cy="85.3" r="1.35"/><circle class="r" cx="451.9" cy="86.5" r="1.35"/><circle class="r" cx="433.3" cy="89.2" r="1.35"/><circle class="r" cx="440.4" cy="78.9" r="1.35"/><circle class="r" cx="441.5" cy="86.7" r="1.35"/><circle class="r" cx="440.7" cy="81.9" r="1.35"/><circle class="r" cx="458.1" cy="83.2" r="1.35"/><circle class="r" cx="435.7" cy="83.0" r="1.35"/><circle class="r" cx="438.7" cy="77.7" r="1.35"/><circle class="r" cx="453.7" cy="86.5" r="1.35"/><circle class="r" cx="457.2" cy="85.1" r="1.35"/><circle class="r" cx="429.7" cy="81.4" r="1.35"/><circle class="r" cx="444.6" cy="91.0" r="1.35"/><circle class="r" cx="436.0" cy="83.8" r="1.35"/><circle class="r" cx="441.5" cy="83.0" r="1.35"/><circle class="r" cx="445.0" cy="82.3" r="1.35"/><circle class="r" cx="430.2" cy="83.3" r="1.35"/><circle class="r" cx="428.7" cy="88.1" r="1.35"/><circle class="r" cx="432.5" cy="91.1" r="1.35"/><circle class="r" cx="458.0" cy="81.8" r="1.35"/><circle class="b" cx="451.0" cy="85.8" r="1.35"/><circle class="b" cx="458.5" cy="77.1" r="1.35"/><circle class="b" cx="433.0" cy="84.6" r="1.35"/><circle class="b" cx="452.4" cy="81.7" r="1.35"/><circle class="b" cx="440.2" cy="78.6" r="1.35"/><circle class="b" cx="450.6" cy="81.9" r="1.35"/><circle class="b" cx="439.5" cy="82.0" r="1.35"/><circle class="b" cx="460.5" cy="82.0" r="1.35"/><circle class="b" cx="440.6" cy="83.5" r="1.35"/><circle class="b" cx="435.6" cy="89.6" r="1.35"/><circle class="b" cx="449.8" cy="87.1" r="1.35"/><circle class="b" cx="440.1" cy="84.0" r="1.35"/><circle class="b" cx="446.0" cy="82.6" r="1.35"/><circle class="b" cx="435.7" cy="85.3" r="1.35"/><circle class="b" cx="435.9" cy="84.8" r="1.35"/><circle class="b" cx="440.6" cy="87.8" r="1.35"/><circle class="b" cx="439.3" cy="88.2" r="1.35"/><circle class="b" cx="457.2" cy="84.8" r="1.35"/><circle class="b" cx="450.3" cy="79.9" r="1.35"/><circle class="b" cx="438.0" cy="83.5" r="1.35"/><circle class="b" cx="495.6" cy="74.2" r="1.35"/><circle class="b" cx="490.5" cy="79.0" r="1.35"/><circle class="b" cx="482.9" cy="78.4" r="1.35"/><circle class="b" cx="469.7" cy="82.9" r="1.35"/><circle class="b" cx="485.2" cy="76.2" r="1.35"/><circle class="b" cx="458.6" cy="85.1" r="1.35"/><circle class="b" cx="476.7" cy="81.3" r="1.35"/><circle class="b" cx="487.5" cy="77.0" r="1.35"/><circle class="b" cx="484.0" cy="77.3" r="1.35"/><circle class="b" cx="473.7" cy="88.3" r="1.35"/><circle class="b" cx="498.9" cy="77.7" r="1.35"/><circle class="b" cx="504.2" cy="77.3" r="1.35"/><circle class="b" cx="481.3" cy="81.8" r="1.35"/><circle class="b" cx="481.3" cy="80.4" r="1.35"/><circle class="b" cx="497.0" cy="78.9" r="1.35"/><circle class="b" cx="508.8" cy="77.1" r="1.35"/><circle class="b" cx="497.1" cy="78.7" r="1.35"/><circle class="b" cx="476.7" cy="82.0" r="1.35"/><circle class="b" cx="493.8" cy="73.9" r="1.35"/><circle class="b" cx="501.5" cy="73.3" r="1.35"/><circle class="b" cx="485.4" cy="78.5" r="1.35"/><circle class="b" cx="498.3" cy="72.8" r="1.35"/><circle class="b" cx="483.2" cy="80.0" r="1.35"/><circle class="b" cx="506.5" cy="72.1" r="1.35"/><circle class="b" cx="464.7" cy="82.0" r="1.35"/><circle class="b" cx="498.6" cy="77.0" r="1.35"/><circle class="b" cx="489.0" cy="71.4" r="1.35"/><circle class="b" cx="488.3" cy="78.6" r="1.35"/><circle class="b" cx="480.1" cy="80.6" r="1.35"/><circle class="b" cx="490.2" cy="72.9" r="1.35"/><circle class="b" cx="478.1" cy="76.9" r="1.35"/><circle class="b" cx="496.3" cy="78.3" r="1.35"/><circle class="b" cx="473.5" cy="77.8" r="1.35"/><circle class="b" cx="478.4" cy="81.9" r="1.35"/><circle class="b" cx="475.1" cy="81.5" r="1.35"/><circle class="b" cx="484.5" cy="73.8" r="1.35"/><circle class="b" cx="481.5" cy="80.2" r="1.35"/><circle class="b" cx="465.7" cy="83.8" r="1.35"/><circle class="b" cx="488.5" cy="77.4" r="1.35"/><circle class="b" cx="506.8" cy="75.6" r="1.35"/><circle class="b" cx="475.2" cy="83.1" r="1.35"/><circle class="b" cx="508.8" cy="71.6" r="1.35"/><circle class="b" cx="468.8" cy="75.9" r="1.35"/><circle class="b" cx="458.6" cy="85.3" r="1.35"/><circle class="b" cx="460.5" cy="79.5" r="1.35"/><circle class="b" cx="506.8" cy="74.9" r="1.35"/><circle class="b" cx="499.0" cy="67.8" r="1.35"/><circle class="b" cx="485.4" cy="76.5" r="1.35"/><circle class="b" cx="485.4" cy="77.8" r="1.35"/><circle class="b" cx="477.0" cy="77.5" r="1.35"/><circle class="b" cx="489.5" cy="74.4" r="1.35"/><circle class="b" cx="493.9" cy="83.1" r="1.35"/><circle class="b" cx="485.8" cy="80.9" r="1.35"/><circle class="b" cx="479.2" cy="81.1" r="1.35"/><circle class="b" cx="487.8" cy="73.6" r="1.35"/><circle class="b" cx="509.1" cy="73.4" r="1.35"/><circle class="b" cx="483.8" cy="75.5" r="1.35"/><circle class="b" cx="510.8" cy="77.0" r="1.35"/><circle class="b" cx="476.2" cy="75.2" r="1.35"/><circle class="b" cx="467.0" cy="80.5" r="1.35"/><circle class="b" cx="474.9" cy="85.3" r="1.35"/><circle class="b" cx="485.2" cy="78.2" r="1.35"/><circle class="b" cx="463.9" cy="85.2" r="1.35"/><circle class="b" cx="501.5" cy="74.3" r="1.35"/><circle class="b" cx="510.5" cy="77.8" r="1.35"/><circle class="b" cx="466.3" cy="79.7" r="1.35"/><circle class="b" cx="473.4" cy="77.3" r="1.35"/><circle class="b" cx="468.0" cy="81.1" r="1.35"/><circle class="b" cx="467.7" cy="78.8" r="1.35"/><circle class="b" cx="476.7" cy="77.3" r="1.35"/><circle class="b" cx="510.7" cy="75.1" r="1.35"/><circle class="b" cx="479.8" cy="78.9" r="1.35"/><circle class="b" cx="499.7" cy="75.6" r="1.35"/><circle class="b" cx="458.2" cy="86.6" r="1.35"/><circle class="b" cx="474.1" cy="82.3" r="1.35"/><circle class="b" cx="493.4" cy="74.8" r="1.35"/><circle class="b" cx="468.4" cy="77.8" r="1.35"/><circle class="b" cx="472.1" cy="80.7" r="1.35"/><circle class="b" cx="492.3" cy="68.9" r="1.35"/><circle class="b" cx="488.4" cy="76.6" r="1.35"/><circle class="b" cx="479.8" cy="80.7" r="1.35"/><circle class="b" cx="498.3" cy="78.3" r="1.35"/><circle class="b" cx="463.7" cy="83.3" r="1.35"/><circle class="b" cx="485.7" cy="79.8" r="1.35"/><circle class="b" cx="501.6" cy="73.1" r="1.35"/><circle class="b" cx="461.3" cy="79.1" r="1.35"/><circle class="b" cx="458.7" cy="83.0" r="1.35"/><circle class="b" cx="495.9" cy="75.1" r="1.35"/><circle class="b" cx="476.8" cy="81.0" r="1.35"/><circle class="b" cx="463.3" cy="83.9" r="1.35"/><circle class="b" cx="505.9" cy="74.1" r="1.35"/><circle class="b" cx="481.8" cy="78.0" r="1.35"/><circle class="b" cx="478.4" cy="85.1" r="1.35"/><circle class="b" cx="488.9" cy="80.3" r="1.35"/><circle class="b" cx="508.9" cy="72.4" r="1.35"/><circle class="b" cx="471.2" cy="82.2" r="1.35"/><circle class="b" cx="460.3" cy="87.3" r="1.35"/><circle class="b" cx="474.7" cy="78.1" r="1.35"/><circle class="b" cx="505.6" cy="77.2" r="1.35"/><circle class="b" cx="489.9" cy="76.2" r="1.35"/><circle class="b" cx="508.9" cy="69.3" r="1.35"/><circle class="b" cx="470.9" cy="81.1" r="1.35"/><circle class="b" cx="478.7" cy="79.3" r="1.35"/><circle class="b" cx="474.4" cy="78.5" r="1.35"/><circle class="b" cx="504.4" cy="71.7" r="1.35"/><circle class="b" cx="470.9" cy="81.3" r="1.35"/><circle class="b" cx="467.2" cy="80.3" r="1.35"/><circle class="b" cx="509.5" cy="77.2" r="1.35"/><circle class="b" cx="473.4" cy="79.3" r="1.35"/><circle class="b" cx="486.3" cy="78.2" r="1.35"/><circle class="b" cx="478.4" cy="78.9" r="1.35"/><circle class="b" cx="464.5" cy="82.4" r="1.35"/><circle class="b" cx="501.8" cy="75.6" r="1.35"/><circle class="b" cx="468.1" cy="82.9" r="1.35"/><circle class="b" cx="473.0" cy="80.6" r="1.35"/><circle class="b" cx="493.2" cy="78.6" r="1.35"/><circle class="b" cx="476.1" cy="82.4" r="1.35"/><circle class="b" cx="462.9" cy="85.6" r="1.35"/><circle class="b" cx="472.3" cy="81.4" r="1.35"/><circle class="b" cx="481.5" cy="78.1" r="1.35"/><circle class="b" cx="502.3" cy="77.2" r="1.35"/><circle class="b" cx="476.7" cy="78.5" r="1.35"/><circle class="b" cx="496.3" cy="72.6" r="1.35"/><circle class="b" cx="469.0" cy="85.9" r="1.35"/><circle class="b" cx="508.4" cy="74.0" r="1.35"/><circle class="b" cx="482.0" cy="79.2" r="1.35"/><circle class="b" cx="464.9" cy="81.2" r="1.35"/><circle class="b" cx="505.7" cy="74.3" r="1.35"/><circle class="b" cx="489.1" cy="77.0" r="1.35"/><circle class="b" cx="490.2" cy="79.7" r="1.35"/><circle class="b" cx="469.3" cy="82.1" r="1.35"/><circle class="b" cx="485.2" cy="77.9" r="1.35"/><circle class="b" cx="486.8" cy="78.1" r="1.35"/><circle class="b" cx="478.4" cy="84.3" r="1.35"/><circle class="b" cx="492.8" cy="75.8" r="1.35"/><circle class="b" cx="478.7" cy="78.7" r="1.35"/><circle class="b" cx="462.6" cy="84.4" r="1.35"/><circle class="b" cx="475.0" cy="85.0" r="1.35"/><circle class="b" cx="493.1" cy="80.5" r="1.35"/><circle class="b" cx="477.2" cy="82.1" r="1.35"/><circle class="b" cx="484.5" cy="78.6" r="1.35"/><circle class="b" cx="474.5" cy="81.3" r="1.35"/><circle class="b" cx="470.0" cy="84.0" r="1.35"/><circle class="b" cx="473.0" cy="83.6" r="1.35"/><circle class="b" cx="479.4" cy="83.5" r="1.35"/><circle class="b" cx="504.8" cy="73.9" r="1.35"/><circle class="b" cx="503.6" cy="78.0" r="1.35"/><circle class="b" cx="459.6" cy="84.2" r="1.35"/><circle class="b" cx="494.0" cy="76.4" r="1.35"/><circle class="b" cx="479.9" cy="77.4" r="1.35"/><circle class="r" cx="445.4" cy="115.6" r="1.35"/><circle class="r" cx="456.0" cy="81.3" r="1.35"/><circle class="r" cx="461.6" cy="89.4" r="1.35"/><circle class="r" cx="465.2" cy="81.3" r="1.35"/><circle class="r" cx="477.6" cy="80.6" r="1.35"/><circle class="r" cx="480.5" cy="83.5" r="1.35"/><circle class="p" cx="63.3" cy="251.2" r="1.35"/><circle class="p" cx="70.0" cy="251.2" r="1.35"/><circle class="p" cx="81.7" cy="237.7" r="1.35"/><circle class="p" cx="82.3" cy="250.3" r="1.35"/><circle class="b" cx="83.4" cy="251.8" r="1.35"/><circle class="p" cx="85.5" cy="243.4" r="1.35"/><circle class="p" cx="87.6" cy="249.0" r="1.35"/><circle class="p" cx="89.0" cy="248.2" r="1.35"/><circle class="p" cx="92.9" cy="231.3" r="1.35"/><circle class="p" cx="92.5" cy="245.0" r="1.35"/><circle class="p" cx="97.1" cy="244.8" r="1.35"/><circle class="p" cx="100.3" cy="246.5" r="1.35"/><circle class="p" cx="102.4" cy="241.9" r="1.35"/><circle class="p" cx="103.5" cy="245.5" r="1.35"/><circle class="p" cx="108.8" cy="244.8" r="1.35"/><circle class="p" cx="110.9" cy="236.4" r="1.35"/><circle class="p" cx="113.0" cy="241.3" r="1.35"/><circle class="p" cx="115.0" cy="243.4" r="1.35"/><circle class="p" cx="116.2" cy="237.7" r="1.35"/><circle class="p" cx="119.3" cy="239.1" r="1.35"/><circle class="p" cx="120.4" cy="238.0" r="1.35"/><circle class="p" cx="123.6" cy="242.3" r="1.35"/><circle class="p" cx="125.3" cy="221.2" r="1.35"/><circle class="p" cx="183.7" cy="229.2" r="1.35"/><circle class="b" cx="222.7" cy="229.2" r="1.35"/><circle class="b" cx="203.3" cy="254.7" r="1.35"/><circle class="p" cx="151.3" cy="231.5" r="1.35"/><circle class="p" cx="154.1" cy="231.7" r="1.35"/><circle class="p" cx="146.5" cy="233.8" r="1.35"/><circle class="p" cx="131.3" cy="236.3" r="1.35"/><circle class="p" cx="151.8" cy="232.6" r="1.35"/><circle class="p" cx="150.4" cy="235.8" r="1.35"/><circle class="p" cx="130.0" cy="235.6" r="1.35"/><circle class="p" cx="150.4" cy="230.0" r="1.35"/><circle class="p" cx="153.1" cy="231.1" r="1.35"/><circle class="p" cx="158.8" cy="230.9" r="1.35"/><circle class="p" cx="142.1" cy="235.8" r="1.35"/><circle class="p" cx="150.1" cy="230.6" r="1.35"/><circle class="p" cx="153.2" cy="229.9" r="1.35"/><circle class="p" cx="127.9" cy="235.3" r="1.35"/><circle class="p" cx="148.9" cy="230.0" r="1.35"/><circle class="p" cx="157.7" cy="231.3" r="1.35"/><circle class="p" cx="132.1" cy="235.7" r="1.35"/><circle class="p" cx="149.1" cy="231.4" r="1.35"/><circle class="p" cx="152.3" cy="231.3" r="1.35"/><circle class="p" cx="160.6" cy="232.0" r="1.35"/><circle class="p" cx="147.3" cy="230.9" r="1.35"/><circle class="p" cx="128.3" cy="236.3" r="1.35"/><circle class="p" cx="140.3" cy="232.4" r="1.35"/><circle class="p" cx="138.9" cy="234.5" r="1.35"/><circle class="p" cx="132.5" cy="234.8" r="1.35"/><circle class="p" cx="136.5" cy="231.7" r="1.35"/><circle class="p" cx="136.7" cy="232.4" r="1.35"/><circle class="p" cx="158.1" cy="230.1" r="1.35"/><circle class="p" cx="140.1" cy="232.3" r="1.35"/><circle class="p" cx="132.8" cy="239.2" r="1.35"/><circle class="p" cx="145.5" cy="230.8" r="1.35"/><circle class="p" cx="145.1" cy="235.7" r="1.35"/><circle class="p" cx="150.8" cy="233.1" r="1.35"/><circle class="p" cx="146.3" cy="234.9" r="1.35"/><circle class="p" cx="143.0" cy="233.4" r="1.35"/><circle class="p" cx="131.5" cy="232.3" r="1.35"/><circle class="p" cx="138.2" cy="233.2" r="1.35"/><circle class="p" cx="128.3" cy="237.7" r="1.35"/><circle class="p" cx="138.0" cy="235.0" r="1.35"/><circle class="p" cx="142.7" cy="235.8" r="1.35"/><circle class="p" cx="131.4" cy="234.9" r="1.35"/><circle class="p" cx="140.4" cy="235.3" r="1.35"/><circle class="p" cx="133.9" cy="235.4" r="1.35"/><circle class="p" cx="163.2" cy="229.1" r="1.35"/><circle class="p" cx="150.5" cy="234.4" r="1.35"/><circle class="p" cx="161.6" cy="230.9" r="1.35"/><circle class="p" cx="145.5" cy="234.3" r="1.35"/><circle class="p" cx="142.3" cy="234.5" r="1.35"/><circle class="p" cx="134.8" cy="234.7" r="1.35"/><circle class="p" cx="157.2" cy="230.4" r="1.35"/><circle class="p" cx="147.5" cy="229.2" r="1.35"/><circle class="p" cx="147.7" cy="229.0" r="1.35"/><circle class="p" cx="137.0" cy="234.4" r="1.35"/><circle class="p" cx="125.6" cy="238.5" r="1.35"/><circle class="p" cx="151.2" cy="232.5" r="1.35"/><circle class="p" cx="134.6" cy="233.6" r="1.35"/><circle class="p" cx="147.3" cy="234.7" r="1.35"/><circle class="p" cx="133.9" cy="231.6" r="1.35"/><circle class="p" cx="151.6" cy="233.1" r="1.35"/><circle class="p" cx="139.4" cy="230.9" r="1.35"/><circle class="p" cx="134.6" cy="235.8" r="1.35"/><circle class="p" cx="140.6" cy="231.9" r="1.35"/><circle class="p" cx="168.3" cy="225.3" r="1.35"/><circle class="p" cx="163.6" cy="231.7" r="1.35"/><circle class="p" cx="160.6" cy="227.1" r="1.35"/><circle class="p" cx="172.3" cy="225.7" r="1.35"/><circle class="p" cx="170.6" cy="231.3" r="1.35"/><circle class="p" cx="167.4" cy="225.3" r="1.35"/><circle class="b" cx="180.0" cy="225.7" r="1.35"/><circle class="b" cx="182.4" cy="225.4" r="1.35"/><circle class="b" cx="167.4" cy="227.6" r="1.35"/><circle class="b" cx="178.3" cy="224.3" r="1.35"/><circle class="b" cx="194.1" cy="221.4" r="1.35"/><circle class="b" cx="178.2" cy="225.6" r="1.35"/><circle class="b" cx="170.7" cy="227.2" r="1.35"/><circle class="b" cx="190.2" cy="221.8" r="1.35"/><circle class="b" cx="190.7" cy="222.3" r="1.35"/><circle class="b" cx="173.5" cy="224.7" r="1.35"/><circle class="b" cx="211.8" cy="215.5" r="1.35"/><circle class="b" cx="200.2" cy="219.5" r="1.35"/><circle class="b" cx="203.8" cy="217.4" r="1.35"/><circle class="b" cx="220.5" cy="212.4" r="1.35"/><circle class="b" cx="193.9" cy="220.6" r="1.35"/><circle class="b" cx="208.3" cy="219.4" r="1.35"/><circle class="b" cx="200.5" cy="219.7" r="1.35"/><circle class="b" cx="199.7" cy="220.3" r="1.35"/><circle class="b" cx="204.6" cy="221.9" r="1.35"/><circle class="b" cx="219.2" cy="214.6" r="1.35"/><circle class="b" cx="223.1" cy="216.4" r="1.35"/><circle class="b" cx="217.2" cy="215.2" r="1.35"/><circle class="b" cx="190.2" cy="221.0" r="1.35"/><circle class="b" cx="198.7" cy="218.1" r="1.35"/><circle class="b" cx="208.6" cy="219.5" r="1.35"/><circle class="b" cx="211.3" cy="216.7" r="1.35"/><circle class="b" cx="198.8" cy="218.2" r="1.35"/><circle class="b" cx="189.0" cy="224.8" r="1.35"/><circle class="b" cx="194.8" cy="220.1" r="1.35"/><circle class="b" cx="191.1" cy="220.3" r="1.35"/><circle class="b" cx="211.8" cy="215.7" r="1.35"/><circle class="b" cx="203.0" cy="220.4" r="1.35"/><circle class="b" cx="207.1" cy="216.7" r="1.35"/><circle class="b" cx="192.1" cy="220.9" r="1.35"/><circle class="b" cx="194.5" cy="222.3" r="1.35"/><circle class="b" cx="192.0" cy="220.3" r="1.35"/><circle class="b" cx="219.0" cy="215.2" r="1.35"/><circle class="b" cx="207.1" cy="218.8" r="1.35"/><circle class="b" cx="197.1" cy="218.4" r="1.35"/><circle class="b" cx="196.2" cy="220.6" r="1.35"/><circle class="b" cx="208.6" cy="219.2" r="1.35"/><circle class="b" cx="209.2" cy="218.8" r="1.35"/><circle class="b" cx="190.9" cy="221.3" r="1.35"/><circle class="b" cx="203.8" cy="219.1" r="1.35"/><circle class="b" cx="219.1" cy="213.0" r="1.35"/><circle class="b" cx="215.2" cy="215.4" r="1.35"/><circle class="b" cx="192.1" cy="223.9" r="1.35"/><circle class="b" cx="191.7" cy="221.4" r="1.35"/><circle class="b" cx="217.9" cy="214.8" r="1.35"/><circle class="b" cx="222.6" cy="215.0" r="1.35"/><circle class="b" cx="208.3" cy="218.0" r="1.35"/><circle class="b" cx="215.9" cy="215.2" r="1.35"/><circle class="b" cx="190.1" cy="222.1" r="1.35"/><circle class="b" cx="188.5" cy="223.8" r="1.35"/><circle class="b" cx="209.4" cy="217.9" r="1.35"/><circle class="b" cx="213.5" cy="217.9" r="1.35"/><circle class="b" cx="203.3" cy="220.5" r="1.35"/><circle class="b" cx="219.4" cy="213.8" r="1.35"/><circle class="b" cx="208.3" cy="220.5" r="1.35"/><circle class="b" cx="194.0" cy="219.5" r="1.35"/><circle class="b" cx="214.8" cy="214.9" r="1.35"/><circle class="b" cx="212.5" cy="219.0" r="1.35"/><circle class="b" cx="217.7" cy="216.6" r="1.35"/><circle class="b" cx="214.5" cy="217.4" r="1.35"/><circle class="b" cx="222.1" cy="214.4" r="1.35"/><circle class="b" cx="209.7" cy="217.1" r="1.35"/><circle class="b" cx="191.6" cy="219.0" r="1.35"/><circle class="b" cx="192.1" cy="220.7" r="1.35"/><circle class="b" cx="221.3" cy="214.2" r="1.35"/><circle class="b" cx="195.0" cy="219.7" r="1.35"/><circle class="b" cx="204.1" cy="219.8" r="1.35"/><circle class="b" cx="192.1" cy="219.8" r="1.35"/><circle class="b" cx="188.8" cy="224.4" r="1.35"/><circle class="b" cx="194.7" cy="222.6" r="1.35"/><circle class="b" cx="208.0" cy="217.4" r="1.35"/><circle class="b" cx="201.7" cy="221.5" r="1.35"/><circle class="b" cx="193.2" cy="222.5" r="1.35"/><circle class="b" cx="212.8" cy="215.5" r="1.35"/><circle class="b" cx="217.1" cy="216.0" r="1.35"/><circle class="b" cx="200.3" cy="219.5" r="1.35"/><circle class="b" cx="193.4" cy="218.1" r="1.35"/><circle class="b" cx="216.8" cy="215.8" r="1.35"/><circle class="b" cx="189.3" cy="223.3" r="1.35"/><circle class="b" cx="212.5" cy="219.4" r="1.35"/><circle class="b" cx="202.1" cy="218.3" r="1.35"/><circle class="r" cx="243.1" cy="212.2" r="1.35"/><circle class="r" cx="231.8" cy="213.9" r="1.35"/><circle class="r" cx="223.9" cy="213.2" r="1.35"/><circle class="r" cx="230.2" cy="213.6" r="1.35"/><circle class="r" cx="236.7" cy="214.4" r="1.35"/><circle class="r" cx="223.1" cy="214.8" r="1.35"/><circle class="r" cx="233.7" cy="213.4" r="1.35"/><circle class="r" cx="236.4" cy="211.6" r="1.35"/><circle class="r" cx="222.1" cy="215.1" r="1.35"/><circle class="r" cx="236.5" cy="212.2" r="1.35"/><circle class="r" cx="233.5" cy="212.8" r="1.35"/><circle class="r" cx="246.7" cy="212.5" r="1.35"/><circle class="r" cx="238.8" cy="212.4" r="1.35"/><circle class="r" cx="228.8" cy="213.2" r="1.35"/><circle class="r" cx="228.6" cy="214.6" r="1.35"/><circle class="r" cx="236.2" cy="209.9" r="1.35"/><circle class="r" cx="246.8" cy="211.5" r="1.35"/><circle class="r" cx="222.9" cy="212.8" r="1.35"/><circle class="r" cx="243.8" cy="211.4" r="1.35"/><circle class="r" cx="241.4" cy="211.2" r="1.35"/><circle class="r" cx="231.1" cy="212.0" r="1.35"/><circle class="r" cx="229.0" cy="213.9" r="1.35"/><circle class="r" cx="250.0" cy="211.0" r="1.35"/><circle class="r" cx="252.0" cy="212.5" r="1.35"/><circle class="r" cx="256.0" cy="211.0" r="1.35"/><circle class="r" cx="257.5" cy="213.0" r="1.35"/><circle class="p" cx="332.2" cy="250.1" r="1.35"/><circle class="p" cx="342.7" cy="249.9" r="1.35"/><circle class="p" cx="355.4" cy="243.8" r="1.35"/><circle class="p" cx="358.2" cy="245.5" r="1.35"/><circle class="p" cx="363.0" cy="242.9" r="1.35"/><circle class="p" cx="366.6" cy="237.7" r="1.35"/><circle class="p" cx="367.3" cy="242.3" r="1.35"/><circle class="p" cx="372.6" cy="240.2" r="1.35"/><circle class="p" cx="381.0" cy="238.1" r="1.35"/><circle class="p" cx="382.5" cy="234.5" r="1.35"/><circle class="p" cx="388.4" cy="234.9" r="1.35"/><circle class="p" cx="389.9" cy="231.7" r="1.35"/><circle class="p" cx="392.7" cy="233.4" r="1.35"/><circle class="p" cx="396.9" cy="231.3" r="1.35"/><circle class="p" cx="398.0" cy="233.8" r="1.35"/><circle class="p" cx="399.4" cy="232.2" r="1.35"/><circle class="p" cx="401.1" cy="230.7" r="1.35"/><circle class="p" cx="403.2" cy="230.0" r="1.35"/><circle class="p" cx="405.8" cy="228.6" r="1.35"/><circle class="p" cx="407.5" cy="228.1" r="1.35"/><circle class="p" cx="409.6" cy="229.6" r="1.35"/><circle class="p" cx="411.4" cy="229.2" r="1.35"/><circle class="p" cx="415.5" cy="227.2" r="1.35"/><circle class="b" cx="416.4" cy="225.2" r="1.35"/><circle class="b" cx="419.9" cy="227.9" r="1.35"/><circle class="b" cx="425.3" cy="225.9" r="1.35"/><circle class="b" cx="426.9" cy="225.2" r="1.35"/><circle class="p" cx="428.9" cy="225.6" r="1.35"/><circle class="b" cx="433.9" cy="221.8" r="1.35"/><circle class="b" cx="441.5" cy="219.1" r="1.35"/><circle class="b" cx="445.5" cy="221.4" r="1.35"/><circle class="b" cx="450.1" cy="217.1" r="1.35"/><circle class="b" cx="450.5" cy="217.8" r="1.35"/><circle class="b" cx="452.2" cy="222.5" r="1.35"/><circle class="b" cx="453.6" cy="219.5" r="1.35"/><circle class="b" cx="454.5" cy="218.5" r="1.35"/><circle class="b" cx="455.2" cy="220.9" r="1.35"/><circle class="b" cx="455.5" cy="214.7" r="1.35"/><circle class="b" cx="457.9" cy="218.2" r="1.35"/><circle class="b" cx="458.3" cy="214.2" r="1.35"/><circle class="b" cx="460.3" cy="215.1" r="1.35"/><circle class="b" cx="462.6" cy="217.1" r="1.35"/><circle class="b" cx="463.3" cy="218.2" r="1.35"/><circle class="b" cx="464.3" cy="213.3" r="1.35"/><circle class="b" cx="464.9" cy="216.8" r="1.35"/><circle class="b" cx="467.0" cy="214.2" r="1.35"/><circle class="b" cx="467.5" cy="214.4" r="1.35"/><circle class="b" cx="468.6" cy="214.4" r="1.35"/><circle class="b" cx="474.6" cy="213.0" r="1.35"/><circle class="b" cx="476.5" cy="214.2" r="1.35"/><circle class="b" cx="478.3" cy="214.7" r="1.35"/><circle class="b" cx="483.2" cy="211.0" r="1.35"/><circle class="r" cx="479.0" cy="215.4" r="1.35"/><circle class="r" cx="490.6" cy="209.8" r="1.35"/><circle class="r" cx="493.8" cy="208.0" r="1.35"/><circle class="r" cx="494.8" cy="208.0" r="1.35"/><circle class="r" cx="497.3" cy="212.2" r="1.35"/><circle class="r" cx="503.0" cy="209.8" r="1.35"/><circle class="r" cx="509.6" cy="208.0" r="1.35"/><circle class="r" cx="516.0" cy="208.0" r="1.35"/><circle class="r" cx="472.8" cy="232.0" r="1.35"/><circle class="b" cx="89.2" cy="392.9" r="1.35"/><circle class="p" cx="112.3" cy="394.4" r="1.35"/><circle class="b" cx="169.8" cy="372.8" r="1.35"/><circle class="b" cx="172.5" cy="383.2" r="1.35"/><circle class="r" cx="172.2" cy="374.8" r="1.35"/><circle class="r" cx="173.7" cy="376.3" r="1.35"/><circle class="r" cx="174.5" cy="377.1" r="1.35"/><circle class="r" cx="175.4" cy="375.4" r="1.35"/><circle class="r" cx="177.1" cy="369.6" r="1.35"/><circle class="r" cx="177.5" cy="372.8" r="1.35"/><circle class="r" cx="181.2" cy="370.2" r="1.35"/><circle class="r" cx="182.5" cy="369.6" r="1.35"/><circle class="r" cx="182.9" cy="370.5" r="1.35"/><circle class="p" cx="185.5" cy="371.1" r="1.35"/><circle class="r" cx="191.5" cy="368.2" r="1.35"/><circle class="r" cx="192.1" cy="372.5" r="1.35"/><circle class="b" cx="196.4" cy="363.6" r="1.35"/><circle class="b" cx="196.4" cy="369.6" r="1.35"/><circle class="r" cx="197.3" cy="367.9" r="1.35"/><circle class="r" cx="197.7" cy="369.6" r="1.35"/><circle class="b" cx="199.4" cy="376.3" r="1.35"/><circle class="b" cx="201.0" cy="371.3" r="1.35"/><circle class="b" cx="202.2" cy="370.8" r="1.35"/><circle class="r" cx="203.1" cy="364.4" r="1.35"/><circle class="b" cx="203.7" cy="365.6" r="1.35"/><circle class="b" cx="205.6" cy="366.4" r="1.35"/><circle class="b" cx="206.8" cy="370.8" r="1.35"/><circle class="b" cx="212.9" cy="367.5" r="1.35"/><circle class="b" cx="215.5" cy="366.7" r="1.35"/><circle class="b" cx="218.4" cy="369.0" r="1.35"/><circle class="b" cx="220.6" cy="363.5" r="1.35"/><circle class="b" cx="222.2" cy="361.3" r="1.35"/><circle class="b" cx="221.9" cy="368.3" r="1.35"/><circle class="b" cx="223.5" cy="365.9" r="1.35"/><circle class="b" cx="226.5" cy="368.3" r="1.35"/><circle class="r" cx="227.3" cy="366.2" r="1.35"/><circle class="b" cx="227.5" cy="367.8" r="1.35"/><circle class="b" cx="234.5" cy="364.9" r="1.35"/><circle class="b" cx="237.1" cy="360.4" r="1.35"/><circle class="b" cx="252.3" cy="364.4" r="1.35"/><circle class="b" cx="253.9" cy="360.4" r="1.35"/><circle class="b" cx="255.9" cy="366.5" r="1.35"/><circle cx="189" cy="371.7" r="1.9" fill="#0000ff"/><circle cx="38.00" cy="66.50" r="0.95" fill="#800080" fill-opacity="1"/><circle cx="38.00" cy="79.60" r="0.95" fill="#800080" fill-opacity="1"/><circle cx="38.00" cy="80.22" r="0.95" fill="#800080" fill-opacity="1"/><circle cx="38.00" cy="80.84" r="0.95" fill="#800080" fill-opacity="1"/><circle cx="38.00" cy="81.46" r="0.95" fill="#800080" fill-opacity="1"/><circle cx="38.00" cy="82.08" r="0.95" fill="#800080" fill-opacity="1"/><circle cx="38.00" cy="82.70" r="0.95" fill="#800080" fill-opacity="1"/><circle cx="38.00" cy="83.32" r="0.95" fill="#800080" fill-opacity="1"/><circle cx="38.00" cy="83.94" r="0.95" fill="#800080" fill-opacity="1"/><circle cx="38.00" cy="84.56" r="0.95" fill="#800080" fill-opacity="1"/><circle cx="38.00" cy="85.18" r="0.95" fill="#800080" fill-opacity="1"/><circle cx="38.00" cy="85.80" r="0.95" fill="#800080" fill-opacity="1"/><circle cx="38.00" cy="86.42" r="0.95" fill="#800080" fill-opacity="1"/><circle cx="38.00" cy="87.04" r="0.95" fill="#800080" fill-opacity="1"/><circle cx="38.00" cy="87.66" r="0.95" fill="#800080" fill-opacity="1"/><circle cx="38.00" cy="88.28" r="0.95" fill="#800080" fill-opacity="1"/><circle cx="38.00" cy="88.90" r="0.95" fill="#800080" fill-opacity="1"/><circle cx="38.00" cy="89.52" r="0.95" fill="#800080" fill-opacity="1"/><circle cx="38.00" cy="90.14" r="0.95" fill="#800080" fill-opacity="1"/><circle cx="38.00" cy="90.76" r="0.95" fill="#800080" fill-opacity="1"/><circle cx="38.00" cy="91.38" r="0.95" fill="#800080" fill-opacity="1"/><circle cx="38.00" cy="92.00" r="0.95" fill="#800080" fill-opacity="1"/><circle cx="38.00" cy="92.62" r="0.95" fill="#800080" fill-opacity="1"/><circle cx="38.00" cy="93.24" r="0.95" fill="#800080" fill-opacity="1"/><circle cx="38.00" cy="93.86" r="0.95" fill="#800080" fill-opacity="1"/><circle cx="38.00" cy="94.48" r="0.95" fill="#800080" fill-opacity="1"/><circle cx="38.00" cy="95.10" r="0.95" fill="#800080" fill-opacity="1"/><circle cx="38.00" cy="95.72" r="0.95" fill="#800080" fill-opacity="1"/><circle cx="38.00" cy="96.34" r="0.95" fill="#800080" fill-opacity="1"/><circle cx="38.00" cy="96.96" r="0.95" fill="#800080" fill-opacity="1"/><circle cx="38.00" cy="97.58" r="0.95" fill="#800080" fill-opacity="1"/><circle cx="38.00" cy="98.20" r="0.95" fill="#800080" fill-opacity="1"/><circle cx="38.00" cy="98.82" r="0.95" fill="#800080" fill-opacity="1"/><circle cx="38.00" cy="99.44" r="0.95" fill="#800080" fill-opacity="1"/><circle cx="38.00" cy="100.06" r="0.95" fill="#800080" fill-opacity="1"/><circle cx="38.00" cy="104.80" r="0.95" fill="#800080" fill-opacity="1"/><circle cx="38.00" cy="106.20" r="0.95" fill="#800080" fill-opacity="1"/><circle cx="38.00" cy="115.70" r="0.95" fill="#800080" fill-opacity="1"/><circle cx="38.00" cy="83.50" r="0.95" fill="#0000ff" fill-opacity="0.45"/><circle cx="38.00" cy="90.30" r="0.95" fill="#0000ff" fill-opacity="0.35"/><circle cx="38.00" cy="105.40" r="0.95" fill="#ff0000" fill-opacity="0.45"/><circle cx="300.00" cy="45.30" r="0.95" fill="#ff0000" fill-opacity="1"/><circle cx="300.00" cy="48.60" r="0.95" fill="#ff0000" fill-opacity="1"/><circle cx="300.00" cy="51.40" r="0.95" fill="#ff0000" fill-opacity="1"/><circle cx="300.00" cy="52.40" r="0.95" fill="#ff0000" fill-opacity="1"/><circle cx="300.00" cy="53.30" r="0.95" fill="#800080" fill-opacity="1"/><circle cx="300.00" cy="62.00" r="0.95" fill="#0000ff" fill-opacity="1"/><circle cx="300.00" cy="63.80" r="0.95" fill="#0000ff" fill-opacity="1"/><circle cx="300.00" cy="72.40" r="0.95" fill="#800080" fill-opacity="1"/><circle cx="300.00" cy="74.00" r="0.95" fill="#800080" fill-opacity="1"/><circle cx="300.00" cy="97.83" r="0.95" fill="#800080" fill-opacity="1"/><circle cx="300.00" cy="99.10" r="0.95" fill="#800080" fill-opacity="1"/><circle cx="300.00" cy="84.85" r="0.95" fill="#800080" fill-opacity="1"/><circle cx="300.00" cy="103.76" r="0.95" fill="#800080" fill-opacity="1"/><circle cx="300.00" cy="88.13" r="0.95" fill="#800080" fill-opacity="1"/><circle cx="300.00" cy="96.87" r="0.95" fill="#800080" fill-opacity="1"/><circle cx="300.00" cy="82.74" r="0.95" fill="#800080" fill-opacity="1"/><circle cx="300.00" cy="80.64" r="0.95" fill="#800080" fill-opacity="1"/><circle cx="300.00" cy="105.84" r="0.95" fill="#800080" fill-opacity="1"/><circle cx="300.00" cy="100.20" r="0.95" fill="#800080" fill-opacity="1"/><circle cx="300.00" cy="99.52" r="0.95" fill="#800080" fill-opacity="1"/><circle cx="300.00" cy="78.28" r="0.95" fill="#800080" fill-opacity="1"/><circle cx="300.00" cy="78.26" r="0.95" fill="#800080" fill-opacity="1"/><circle cx="300.00" cy="82.12" r="0.95" fill="#800080" fill-opacity="1"/><circle cx="300.00" cy="83.26" r="0.95" fill="#800080" fill-opacity="1"/><circle cx="300.00" cy="86.58" r="0.95" fill="#800080" fill-opacity="1"/><circle cx="300.00" cy="89.03" r="0.95" fill="#800080" fill-opacity="1"/><circle cx="300.00" cy="78.24" r="0.95" fill="#800080" fill-opacity="1"/><circle cx="300.00" cy="86.82" r="0.95" fill="#800080" fill-opacity="1"/><circle cx="300.00" cy="97.17" r="0.95" fill="#800080" fill-opacity="1"/><circle cx="300.00" cy="82.68" r="0.95" fill="#800080" fill-opacity="1"/><circle cx="300.00" cy="103.53" r="0.95" fill="#800080" fill-opacity="1"/><circle cx="300.00" cy="95.02" r="0.95" fill="#800080" fill-opacity="1"/><circle cx="300.00" cy="99.65" r="0.95" fill="#800080" fill-opacity="1"/><circle cx="300.00" cy="85.05" r="0.95" fill="#800080" fill-opacity="1"/><circle cx="300.00" cy="90.74" r="0.95" fill="#800080" fill-opacity="1"/><circle cx="300.00" cy="98.62" r="0.95" fill="#800080" fill-opacity="1"/><circle cx="300.00" cy="88.03" r="0.95" fill="#800080" fill-opacity="1"/><circle cx="300.00" cy="77.03" r="0.95" fill="#800080" fill-opacity="1"/><circle cx="300.00" cy="103.36" r="0.95" fill="#800080" fill-opacity="1"/><circle cx="300.00" cy="115.80" r="0.95" fill="#800080" fill-opacity="1"/><circle cx="37.10" cy="239.50" r="0.95" fill="#800080" fill-opacity="1"/><circle cx="37.10" cy="241.50" r="0.95" fill="#5070c0" fill-opacity="1"/><circle cx="37.10" cy="244.20" r="0.95" fill="#800080" fill-opacity="1"/><circle cx="37.10" cy="248.80" r="0.95" fill="#800080" fill-opacity="1"/><circle cx="37.10" cy="254.10" r="0.95" fill="#800080" fill-opacity="1"/><circle cx="37.10" cy="258.30" r="0.95" fill="#2848b0" fill-opacity="1"/><circle cx="37.10" cy="260.50" r="0.95" fill="#2848b0" fill-opacity="1"/><circle cx="37.10" cy="263.60" r="0.95" fill="#800080" fill-opacity="1"/><circle cx="37.10" cy="266.40" r="0.95" fill="#800080" fill-opacity="1"/><circle cx="37.10" cy="275.40" r="0.95" fill="#800080" fill-opacity="1"/><circle cx="300.00" cy="254.80" r="0.95" fill="#800080" fill-opacity="1"/><circle cx="300.00" cy="263.80" r="0.95" fill="#800080" fill-opacity="1"/><circle cx="300.00" cy="275.30" r="0.95" fill="#800080" fill-opacity="1"/><circle cx="37.70" cy="337.00" r="0.95" fill="#0000ff" fill-opacity="1"/><circle cx="37.70" cy="345.10" r="0.95" fill="#0000ff" fill-opacity="1"/><circle cx="37.70" cy="354.10" r="0.95" fill="#800080" fill-opacity="1"/><circle cx="37.70" cy="357.50" r="0.95" fill="#800080" fill-opacity="1"/><circle cx="37.70" cy="357.40" r="0.95" fill="#800080" fill-opacity="1"/><circle cx="37.70" cy="369.10" r="0.95" fill="#800080" fill-opacity="1"/><circle cx="37.70" cy="375.90" r="0.95" fill="#800080" fill-opacity="1"/><circle cx="37.70" cy="387.70" r="0.95" fill="#800080" fill-opacity="1"/><circle cx="37.70" cy="391.10" r="0.95" fill="#800080" fill-opacity="1"/><circle cx="37.70" cy="393.40" r="0.95" fill="#800080" fill-opacity="1"/><circle cx="37.70" cy="397.40" r="0.95" fill="#800080" fill-opacity="1"/><circle cx="37.70" cy="399.10" r="0.95" fill="#ff0000" fill-opacity="1"/><circle cx="37.70" cy="407.50" r="0.95" fill="#800080" fill-opacity="1"/><text x="0.00" y="28.70" font-size="12.75" text-anchor="start" font-weight="bold" fill="#000" stroke="#000" stroke-width="0.25">A</text><text x="147.10" y="34.00" font-size="7.25" text-anchor="middle" font-weight="bold" fill="#000" >Nirsevimab group (<tspan font-style="italic">n</tspan> = 614)</text><text x="147.10" y="42.60" font-size="7.25" text-anchor="middle" font-weight="bold" fill="#000" >Day 31–361 Pearson correlation: 0.98</text><path d="M35.50 43.00V117.90H258.70" fill="none" stroke="#c4c4c4" stroke-width="1.1"/><path d="M33.50 57.00H35.50" stroke="#b8b8b8" stroke-width="0.6"/><text x="32.10" y="59.20" font-size="7" text-anchor="end" font-weight="normal" fill="#3a3a3a" stroke="#3a3a3a" stroke-width="0.28" >10000</text><path d="M33.50 79.40H35.50" stroke="#b8b8b8" stroke-width="0.6"/><text x="32.10" y="81.60" font-size="7" text-anchor="end" font-weight="normal" fill="#3a3a3a" stroke="#3a3a3a" stroke-width="0.28" >1000</text><path d="M33.50 101.90H35.50" stroke="#b8b8b8" stroke-width="0.6"/><text x="32.10" y="104.10" font-size="7" text-anchor="end" font-weight="normal" fill="#3a3a3a" stroke="#3a3a3a" stroke-width="0.28" >100</text><path d="M84.30 117.90V119.90" stroke="#b8b8b8" stroke-width="0.6"/><text x="84.30" y="126.20" font-size="7" text-anchor="middle" font-weight="normal" fill="#3a3a3a" stroke="#3a3a3a" stroke-width="0.28" >1</text><path d="M162.30 117.90V119.90" stroke="#b8b8b8" stroke-width="0.6"/><text x="162.30" y="126.20" font-size="7" text-anchor="middle" font-weight="normal" fill="#3a3a3a" stroke="#3a3a3a" stroke-width="0.28" >10</text><path d="M240.00 117.90V119.90" stroke="#b8b8b8" stroke-width="0.6"/><text x="240.00" y="126.20" font-size="7" text-anchor="middle" font-weight="normal" fill="#3a3a3a" stroke="#3a3a3a" stroke-width="0.28" >100</text><text x="147.10" y="145.80" font-size="7" text-anchor="middle" font-weight="normal" fill="#333" stroke="#333" stroke-width="0.28" >Nirsevimab, μg/mL</text><text x="8.70" y="80.45" font-size="7" text-anchor="middle" fill="#333" stroke="#333" stroke-width="0.28" transform="rotate(-90 8.70 80.45)" textLength="70" lengthAdjust="spacingAndGlyphs">Anti-RSV nAbs, IU/mL</text><text x="265.20" y="28.85" font-size="12.75" text-anchor="start" font-weight="bold" fill="#000" stroke="#000" stroke-width="0.25">B</text><text x="407.65" y="34.20" font-size="7.25" text-anchor="middle" font-weight="bold" fill="#000" >Palivizumab group (<tspan font-style="italic">n</tspan> = 304)</text><text x="407.65" y="42.40" font-size="7.25" text-anchor="middle" font-weight="bold" fill="#000" >Day 31–361 Pearson correlation: 0.82</text><path d="M297.30 43.30V118.35H518.00" fill="none" stroke="#c4c4c4" stroke-width="1.1"/><path d="M295.30 56.80H297.30" stroke="#b8b8b8" stroke-width="0.6"/><text x="293.90" y="59.00" font-size="7" text-anchor="end" font-weight="normal" fill="#3a3a3a" stroke="#3a3a3a" stroke-width="0.28" >10000</text><path d="M295.30 79.20H297.30" stroke="#b8b8b8" stroke-width="0.6"/><text x="293.90" y="81.40" font-size="7" text-anchor="end" font-weight="normal" fill="#3a3a3a" stroke="#3a3a3a" stroke-width="0.28" >1000</text><path d="M295.30 101.60H297.30" stroke="#b8b8b8" stroke-width="0.6"/><text x="293.90" y="103.80" font-size="7" text-anchor="end" font-weight="normal" fill="#3a3a3a" stroke="#3a3a3a" stroke-width="0.28" >100</text><path d="M391.33 118.35V120.35" stroke="#b8b8b8" stroke-width="0.6"/><text x="392.33" y="121.55" dy="5.1" font-size="7" text-anchor="end" fill="#3a3a3a" stroke="#3a3a3a" stroke-width="0.28" transform="rotate(-30 392.33 121.55)">25</text><path d="M430.47 118.35V120.35" stroke="#b8b8b8" stroke-width="0.6"/><text x="431.47" y="121.55" dy="5.1" font-size="7" text-anchor="end" fill="#3a3a3a" stroke="#3a3a3a" stroke-width="0.28" transform="rotate(-30 431.47 121.55)">50</text><path d="M453.36 118.35V120.35" stroke="#b8b8b8" stroke-width="0.6"/><text x="454.36" y="121.55" dy="5.1" font-size="7" text-anchor="end" fill="#3a3a3a" stroke="#3a3a3a" stroke-width="0.28" transform="rotate(-30 454.36 121.55)">75</text><path d="M469.60 118.35V120.35" stroke="#b8b8b8" stroke-width="0.6"/><text x="470.60" y="121.55" dy="5.1" font-size="7" text-anchor="end" fill="#3a3a3a" stroke="#3a3a3a" stroke-width="0.28" transform="rotate(-30 470.60 121.55)">100</text><path d="M482.20 118.35V120.35" stroke="#b8b8b8" stroke-width="0.6"/><text x="483.20" y="121.55" dy="5.1" font-size="7" text-anchor="end" fill="#3a3a3a" stroke="#3a3a3a" stroke-width="0.28" transform="rotate(-30 483.20 121.55)">125</text><path d="M492.49 118.35V120.35" stroke="#b8b8b8" stroke-width="0.6"/><path d="M501.19 118.35V120.35" stroke="#b8b8b8" stroke-width="0.6"/><text x="502.19" y="121.55" dy="5.1" font-size="7" text-anchor="end" fill="#3a3a3a" stroke="#3a3a3a" stroke-width="0.28" transform="rotate(-30 502.19 121.55)">175</text><path d="M508.73 118.35V120.35" stroke="#b8b8b8" stroke-width="0.6"/><path d="M515.38 118.35V120.35" stroke="#b8b8b8" stroke-width="0.6"/><text x="516.38" y="121.55" dy="5.1" font-size="7" text-anchor="end" fill="#3a3a3a" stroke="#3a3a3a" stroke-width="0.28" transform="rotate(-30 516.38 121.55)">225</text><text x="407.65" y="145.80" font-size="7" text-anchor="middle" font-weight="normal" fill="#333" stroke="#333" stroke-width="0.28" >Palivizumab, μg/mL</text><text x="272.00" y="80.82" font-size="7" text-anchor="middle" fill="#333" stroke="#333" stroke-width="0.28" transform="rotate(-90 272.00 80.82)" textLength="70" lengthAdjust="spacingAndGlyphs">Anti-RSV nAbs, IU/mL</text><text x="0.00" y="190.90" font-size="12.75" text-anchor="start" font-weight="bold" fill="#000" stroke="#000" stroke-width="0.25">C</text><text x="147.00" y="195.80" font-size="7.25" text-anchor="middle" font-weight="bold" fill="#000" >Nirsevimab/nirsevimab group (<tspan font-style="italic">n</tspan> = 180)</text><text x="147.00" y="204.30" font-size="7.25" text-anchor="middle" font-weight="bold" fill="#000" >Day 31–361 Pearson correlation: 0.95</text><path d="M34.60 208.10V277.85H259.40" fill="none" stroke="#c4c4c4" stroke-width="1.1"/><path d="M32.60 222.10H34.60" stroke="#b8b8b8" stroke-width="0.6"/><text x="31.20" y="224.30" font-size="7" text-anchor="end" font-weight="normal" fill="#3a3a3a" stroke="#3a3a3a" stroke-width="0.28" >10000</text><path d="M32.60 242.50H34.60" stroke="#b8b8b8" stroke-width="0.6"/><text x="31.20" y="244.70" font-size="7" text-anchor="end" font-weight="normal" fill="#3a3a3a" stroke="#3a3a3a" stroke-width="0.28" >1000</text><path d="M32.60 263.10H34.60" stroke="#b8b8b8" stroke-width="0.6"/><text x="31.20" y="265.30" font-size="7" text-anchor="end" font-weight="normal" fill="#3a3a3a" stroke="#3a3a3a" stroke-width="0.28" >100</text><path d="M81.00 277.85V279.85" stroke="#b8b8b8" stroke-width="0.6"/><text x="81.00" y="287.70" font-size="7" text-anchor="middle" font-weight="normal" fill="#3a3a3a" stroke="#3a3a3a" stroke-width="0.28" >1</text><path d="M154.00 277.85V279.85" stroke="#b8b8b8" stroke-width="0.6"/><text x="154.00" y="287.70" font-size="7" text-anchor="middle" font-weight="normal" fill="#3a3a3a" stroke="#3a3a3a" stroke-width="0.28" >10</text><path d="M227.00 277.85V279.85" stroke="#b8b8b8" stroke-width="0.6"/><text x="227.00" y="287.70" font-size="7" text-anchor="middle" font-weight="normal" fill="#3a3a3a" stroke="#3a3a3a" stroke-width="0.28" >100</text><text x="147.00" y="302.00" font-size="7" text-anchor="middle" font-weight="normal" fill="#333" stroke="#333" stroke-width="0.28" >Nirsevimab, μg/mL</text><text x="9.20" y="242.98" font-size="7" text-anchor="middle" fill="#333" stroke="#333" stroke-width="0.28" transform="rotate(-90 9.20 242.98)" textLength="70" lengthAdjust="spacingAndGlyphs">Anti-RSV nAbs, IU/mL</text><text x="265.00" y="190.80" font-size="12.75" text-anchor="start" font-weight="bold" fill="#000" stroke="#000" stroke-width="0.25">D</text><text x="408.30" y="195.90" font-size="7.25" text-anchor="middle" font-weight="bold" fill="#000" >Palivizumab/nirsevimab group (<tspan font-style="italic">n</tspan> = 40)</text><text x="408.30" y="204.50" font-size="7.25" text-anchor="middle" font-weight="bold" fill="#000" >Day 31–361 Pearson correlation: 0.97</text><path d="M298.10 205.80V277.20H518.50" fill="none" stroke="#c4c4c4" stroke-width="1.1"/><path d="M296.10 219.20H298.10" stroke="#b8b8b8" stroke-width="0.6"/><text x="294.70" y="221.40" font-size="7" text-anchor="end" font-weight="normal" fill="#3a3a3a" stroke="#3a3a3a" stroke-width="0.28" >10000</text><path d="M296.10 240.50H298.10" stroke="#b8b8b8" stroke-width="0.6"/><text x="294.70" y="242.70" font-size="7" text-anchor="end" font-weight="normal" fill="#3a3a3a" stroke="#3a3a3a" stroke-width="0.28" >1000</text><path d="M296.10 262.10H298.10" stroke="#b8b8b8" stroke-width="0.6"/><text x="294.70" y="264.30" font-size="7" text-anchor="end" font-weight="normal" fill="#3a3a3a" stroke="#3a3a3a" stroke-width="0.28" >100</text><path d="M342.10 277.20V279.20" stroke="#b8b8b8" stroke-width="0.6"/><text x="342.10" y="287.30" font-size="7" text-anchor="middle" font-weight="normal" fill="#3a3a3a" stroke="#3a3a3a" stroke-width="0.28" >1</text><path d="M412.20 277.20V279.20" stroke="#b8b8b8" stroke-width="0.6"/><text x="412.20" y="287.30" font-size="7" text-anchor="middle" font-weight="normal" fill="#3a3a3a" stroke="#3a3a3a" stroke-width="0.28" >10</text><path d="M482.30 277.20V279.20" stroke="#b8b8b8" stroke-width="0.6"/><text x="482.30" y="287.30" font-size="7" text-anchor="middle" font-weight="normal" fill="#3a3a3a" stroke="#3a3a3a" stroke-width="0.28" >100</text><text x="408.30" y="302.00" font-size="7" text-anchor="middle" font-weight="normal" fill="#333" stroke="#333" stroke-width="0.28" >Nirsevimab, μg/mL</text><text x="272.10" y="241.50" font-size="7" text-anchor="middle" fill="#333" stroke="#333" stroke-width="0.28" transform="rotate(-90 272.10 241.50)" textLength="70" lengthAdjust="spacingAndGlyphs">Anti-RSV nAbs, IU/mL</text><text x="0.50" y="319.10" font-size="12.75" text-anchor="start" font-weight="bold" fill="#000" stroke="#000" stroke-width="0.25">E</text><text x="147.70" y="325.00" font-size="7.25" text-anchor="middle" font-weight="bold" fill="#000" >Palivizumab/palivizumab group (<tspan font-style="italic">n</tspan> = 42)</text><text x="147.70" y="333.90" font-size="7.25" text-anchor="middle" font-weight="bold" fill="#000" >Day 31–361 Pearson correlation: 0.86</text><path d="M35.40 334.60V409.60H258.20" fill="none" stroke="#c4c4c4" stroke-width="1.1"/><path d="M33.40 337.70H35.40" stroke="#b8b8b8" stroke-width="0.6"/><text x="32.00" y="339.90" font-size="7" text-anchor="end" font-weight="normal" fill="#3a3a3a" stroke="#3a3a3a" stroke-width="0.28" >10000</text><path d="M33.40 364.40H35.40" stroke="#b8b8b8" stroke-width="0.6"/><text x="32.00" y="366.60" font-size="7" text-anchor="end" font-weight="normal" fill="#3a3a3a" stroke="#3a3a3a" stroke-width="0.28" >1000</text><path d="M33.40 391.10H35.40" stroke="#b8b8b8" stroke-width="0.6"/><text x="32.00" y="393.30" font-size="7" text-anchor="end" font-weight="normal" fill="#3a3a3a" stroke="#3a3a3a" stroke-width="0.28" >100</text><path d="M132.10 409.60V411.60" stroke="#b8b8b8" stroke-width="0.6"/><text x="133.10" y="412.80" dy="5.1" font-size="7" text-anchor="end" fill="#3a3a3a" stroke="#3a3a3a" stroke-width="0.28" transform="rotate(-30 133.10 412.80)">25</text><path d="M172.50 409.60V411.60" stroke="#b8b8b8" stroke-width="0.6"/><text x="173.50" y="412.80" dy="5.1" font-size="7" text-anchor="end" fill="#3a3a3a" stroke="#3a3a3a" stroke-width="0.28" transform="rotate(-30 173.50 412.80)">50</text><path d="M196.13 409.60V411.60" stroke="#b8b8b8" stroke-width="0.6"/><text x="197.13" y="412.80" dy="5.1" font-size="7" text-anchor="end" fill="#3a3a3a" stroke="#3a3a3a" stroke-width="0.28" transform="rotate(-30 197.13 412.80)">75</text><path d="M212.90 409.60V411.60" stroke="#b8b8b8" stroke-width="0.6"/><text x="213.90" y="412.80" dy="5.1" font-size="7" text-anchor="end" fill="#3a3a3a" stroke="#3a3a3a" stroke-width="0.28" transform="rotate(-30 213.90 412.80)">100</text><path d="M225.91 409.60V411.60" stroke="#b8b8b8" stroke-width="0.6"/><path d="M236.53 409.60V411.60" stroke="#b8b8b8" stroke-width="0.6"/><text x="237.53" y="412.80" dy="5.1" font-size="7" text-anchor="end" fill="#3a3a3a" stroke="#3a3a3a" stroke-width="0.28" transform="rotate(-30 237.53 412.80)">150</text><path d="M245.52 409.60V411.60" stroke="#b8b8b8" stroke-width="0.6"/><path d="M253.30 409.60V411.60" stroke="#b8b8b8" stroke-width="0.6"/><text x="254.30" y="412.80" dy="5.1" font-size="7" text-anchor="end" fill="#3a3a3a" stroke="#3a3a3a" stroke-width="0.28" transform="rotate(-30 254.30 412.80)">200</text><text x="146.80" y="443.50" font-size="7" text-anchor="middle" font-weight="normal" fill="#333" stroke="#333" stroke-width="0.28" >Palivizumab, μg/mL</text><text x="9.20" y="372.10" font-size="7" text-anchor="middle" fill="#333" stroke="#333" stroke-width="0.28" transform="rotate(-90 9.20 372.10)" textLength="70" lengthAdjust="spacingAndGlyphs">Anti-RSV nAbs, IU/mL</text><text x="240.30" y="6.90" font-size="8.25" text-anchor="start" font-weight="bold" fill="#000" >Season 1</text><text x="240.30" y="172.70" font-size="8.25" text-anchor="start" font-weight="bold" fill="#000" >Season 2</text><text x="276.40" y="168.00" font-size="3.5" text-anchor="start" font-weight="bold" fill="#000" >a</text><text x="389.70" y="360.90" font-size="7" text-anchor="start" font-weight="bold" fill="#000" >Study day</text><text x="333.00" y="372.10" font-size="7" text-anchor="start" font-weight="bold" fill="#000" >&gt;LLOQ:</text><text x="333.00" y="380.60" font-size="7" text-anchor="start" font-weight="bold" fill="#000" >&lt;LLOQ:</text><text x="365.50" y="372.10" font-size="7" text-anchor="start" font-weight="bold" fill="#000" >Day 31</text><text x="365.50" y="380.60" font-size="7" text-anchor="start" font-weight="bold" fill="#000" >Day 31</text><text x="403.20" y="372.10" font-size="7" text-anchor="start" font-weight="bold" fill="#000" >Day 151</text><text x="403.20" y="380.60" font-size="7" text-anchor="start" font-weight="bold" fill="#000" >Day 151</text><text x="445.50" y="372.10" font-size="7" text-anchor="start" font-weight="bold" fill="#000" >Day 361</text><text x="445.50" y="380.60" font-size="7" text-anchor="start" font-weight="bold" fill="#000" >Day 361</text><circle cx="394.3" cy="369.2" r="2.4" fill="none" stroke="#ff0000" stroke-width="1"/><circle cx="394.3" cy="378.2" r="2.9" fill="#ff0000"/><circle cx="436.3" cy="369.2" r="2.4" fill="none" stroke="#0000ff" stroke-width="1"/><circle cx="436.3" cy="378.2" r="2.9" fill="#0000ff"/><circle cx="477.8" cy="369.2" r="2.4" fill="none" stroke="#800080" stroke-width="1"/><circle cx="477.8" cy="378.2" r="2.9" fill="#800080"/></svg></body></html>
